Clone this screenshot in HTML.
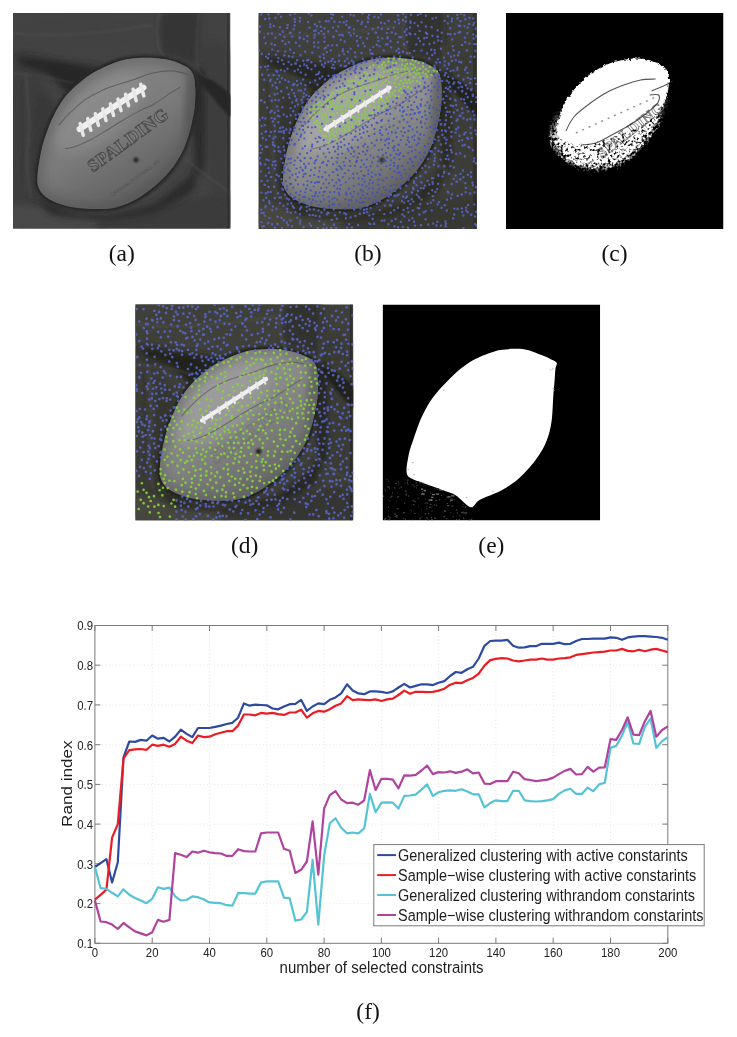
<!DOCTYPE html>
<html><head><meta charset="utf-8"><title>Figure</title>
<style>
html,body{margin:0;padding:0;background:#fff;}
#fig{position:relative;width:737px;height:1037px;overflow:hidden;background:#fff;}
#fig svg.main{position:absolute;left:0;top:0;}
.lab{position:absolute;width:60px;text-align:center;font-family:"Liberation Serif",serif;font-size:23.5px;line-height:1;color:#111;}
.tk{font-family:"Liberation Sans",sans-serif;font-size:11.4px;fill:#222;}
.al{font-family:"Liberation Sans",sans-serif;font-size:15px;fill:#1e1e1e;}
.lg{font-family:"Liberation Sans",sans-serif;font-size:14.5px;fill:#1e1e1e;}
</style></head>
<body><div id="fig">
<svg class="main" width="737" height="1037" viewBox="0 0 737 1037">
<svg x="13" y="13" width="217.5" height="215.7" viewBox="0 0 218 216" preserveAspectRatio="none">
<defs><filter id="pab3" x="-20%" y="-20%" width="140%" height="140%"><feGaussianBlur stdDeviation="3"/></filter><filter id="pab1" x="-20%" y="-20%" width="140%" height="140%"><feGaussianBlur stdDeviation="1"/></filter><filter id="pab05" x="-20%" y="-20%" width="140%" height="140%"><feGaussianBlur stdDeviation="0.5"/></filter><filter id="pab6" x="-30%" y="-30%" width="160%" height="160%"><feGaussianBlur stdDeviation="6"/></filter><linearGradient id="pabg" gradientUnits="userSpaceOnUse" x1="70" y1="62" x2="140" y2="180"><stop offset="0" stop-color="#888888"/><stop offset="0.5" stop-color="#7a7a7a"/><stop offset="1" stop-color="#5f5f5f"/></linearGradient><clipPath id="pacl"><rect width="218" height="216"/></clipPath><clipPath id="pabc"><path d="M108 47.8C116.4 45.3 122.9 45 130.4 44.8C137.9 44.5 146.1 45.1 152.8 46.3C159.5 47.5 166.2 50 170.7 52.2C175.2 54.4 177.6 56.2 179.6 59.5C181.6 62.8 181.9 66.9 182.4 72C182.9 77.1 182.8 84.3 182.4 90C182 95.7 181.2 100.3 180 106C178.8 111.7 177.4 118.1 175.5 124C173.6 129.9 171.7 135.5 168.6 141.2C165.5 146.9 161.6 152.9 157.2 158.3C152.8 163.7 147.7 168.8 142 173.5C136.3 178.2 129.3 183.3 123 186.8C116.7 190.3 110.3 192.8 104 194.4C97.7 196 92 196.2 85 196.3C78 196.4 68.7 195.8 62 194.8C55.3 193.8 50 192.4 45 190.5C40 188.6 35.3 186.2 32 183.5C28.7 180.8 26.6 177.6 25.4 174C24.2 170.4 24.3 166.8 24.6 162C24.9 157.2 25.9 150.7 27 145C28.1 139.3 29 134.3 31 128C33 121.7 36 113.3 38.8 107C41.6 100.7 44.5 95.2 48 90C51.5 84.8 54.4 81.1 59.7 76.1C65 71.1 72 64.7 80 60C88 55.3 99.6 50.3 108 47.8Z"/></clipPath></defs>
<g clip-path="url(#pacl)">
<rect width="218" height="216" fill="#424242"/>
<path d="M0 0C15 -3.8 135 -4 150 0C165 4 155 36 150 40C145 44 111 40 100 40C89 40 50 40.2 40 40C30 39.8 4 42 0 38C-4 34 -15 3.8 0 0Z" fill="#434343" filter="url(#pab3)"/>
<path d="M150 0C153.6 -4 182.4 -5 186 0C189.6 5 188.1 45.6 186 50C183.9 54.4 168.6 45 165 44C161.4 43 151.5 44.4 150 40C148.5 35.6 146.4 4 150 0Z" fill="#363636" filter="url(#pab3)"/>
<path d="M0 45C3 31 27 35.5 30 50C33 64.5 33 176 30 190C27 204 3 204.5 0 190C-3 175.5 -3 59 0 45Z" fill="#3e3e3e" filter="url(#pab3)"/>
<path d="M5 44C8 43.5 31.7 45.9 40 47C48.3 48.1 84.4 53.5 88 55C91.6 56.5 79.1 59.5 76 62C72.9 64.5 61 80 57 80C53 80 40.7 64.8 36 62C31.3 59.2 13.1 53.8 10 52C6.9 50.2 2 44.5 5 44Z" fill="#282828" filter="url(#pab3)"/>
<path d="M24 80C26 77 39 85 40 90C41 95 35.4 121 34 130C32.6 139 27.6 175 26 180C24.4 185 18.6 186 18 180C17.4 174 19.4 130 20 120C20.6 110 22 83 24 80Z" fill="#383838" filter="url(#pab3)"/>
<path d="M0 192C4 190 31 194.9 40 196C49 197.1 85 201 90 203C95 205 99 214.7 90 216C81 217.3 9 218.4 0 216C-9 213.6 -4 194 0 192Z" fill="#484848" filter="url(#pab3)"/>
<path d="M90 203C96 200.6 137.2 194.1 150 192C162.8 189.9 211.2 179.6 218 182C224.8 184.4 230.8 212.6 218 216C205.2 219.4 102.8 217.3 90 216C77.2 214.7 84 205.4 90 203Z" fill="#3a3a3a" filter="url(#pab3)"/>
<path d="M25 186C27 185.7 52.5 197.4 60 199C67.5 200.6 92 202.7 100 202C108 201.3 132.5 195.7 140 192C147.5 188.3 170.5 169.2 175 165C179.5 160.8 184.5 148.7 185 150C185.5 151.3 184.5 173 180 178C175.5 183 149 197.1 140 200C131 202.9 100 206.8 90 207C80 207.2 46.5 204.1 40 202C33.5 199.9 23 186.3 25 186Z" fill="#2c2c2c" filter="url(#pab3)"/>
<path d="M186 30C189.2 28 214.8 25 218 40C221.2 55 219.8 166.5 218 180C216.2 193.5 203 181 200 175C197 169 189.4 131.5 188 120C186.6 108.5 186.2 69 186 60C185.8 51 182.8 32 186 30Z" fill="#3e3e3e" filter="url(#pab3)"/>
<path d="M184 58C185.2 53.2 191.2 52.8 192 62C192.8 71.2 192.8 140.2 192 150C191.2 159.8 185.2 164 184 160C182.8 156 180 120.2 180 110C180 99.8 182.8 62.8 184 58Z" fill="#2c2c2c" filter="url(#pab3)"/>
<path d="M186 58C188.8 59 214.8 77.4 218 82C221.2 86.6 220.8 105 218 104C215.2 103 193.2 76.6 190 72C186.8 67.4 183.2 57 186 58Z" fill="#262626" filter="url(#pab1)"/>
<path d="M0 20C6.7 20.3 23.3 22.3 40 22C56.7 21.7 83.3 19.7 100 18C116.7 16.3 133.3 13 140 12" stroke="#505050" stroke-width="1.2" fill="none" filter="url(#pab1)"/>
<path d="M0 60C5 60.7 20 62.3 30 64C40 65.7 55 69 60 70" stroke="#4c4c4c" stroke-width="1.0" fill="none" filter="url(#pab1)"/>
<path d="M147 0C146.5 3.3 143.5 13 144 20C144.5 27 146.5 37.3 150 42C153.5 46.7 162.5 47 165 48" stroke="#505050" stroke-width="1.3" fill="none" filter="url(#pab1)"/>
<path d="M186 0C185.7 5 184 20.3 184 30C184 39.7 183.3 52 186 58C188.7 64 197.7 64.7 200 66" stroke="#4a4a4a" stroke-width="1.2" fill="none" filter="url(#pab1)"/>
<path d="M13 60C13.5 68.3 15.8 95 16 110C16.2 125 13.7 137.5 14 150C14.3 162.5 17.3 179.2 18 185" stroke="#4c4c4c" stroke-width="1.4" fill="none" filter="url(#pab1)"/>
<path d="M8 68C8.3 76.7 10 103 10 120C10 137 8.3 161.7 8 170" stroke="#343434" stroke-width="1.2" fill="none" filter="url(#pab1)"/>
<path d="M165 140C169.2 143.3 181.2 153.3 190 160C198.8 166.7 213.3 176.7 218 180" stroke="#4c4c4c" stroke-width="1.3" fill="none" filter="url(#pab1)"/>
<path d="M215 0C215.2 36 215.8 180 216 216" stroke="#292929" stroke-width="2.0" fill="none" filter="url(#pab1)"/>
<path d="M108 47.8C116.4 45.3 122.9 45 130.4 44.8C137.9 44.5 146.1 45.1 152.8 46.3C159.5 47.5 166.2 50 170.7 52.2C175.2 54.4 177.6 56.2 179.6 59.5C181.6 62.8 181.9 66.9 182.4 72C182.9 77.1 182.8 84.3 182.4 90C182 95.7 181.2 100.3 180 106C178.8 111.7 177.4 118.1 175.5 124C173.6 129.9 171.7 135.5 168.6 141.2C165.5 146.9 161.6 152.9 157.2 158.3C152.8 163.7 147.7 168.8 142 173.5C136.3 178.2 129.3 183.3 123 186.8C116.7 190.3 110.3 192.8 104 194.4C97.7 196 92 196.2 85 196.3C78 196.4 68.7 195.8 62 194.8C55.3 193.8 50 192.4 45 190.5C40 188.6 35.3 186.2 32 183.5C28.7 180.8 26.6 177.6 25.4 174C24.2 170.4 24.3 166.8 24.6 162C24.9 157.2 25.9 150.7 27 145C28.1 139.3 29 134.3 31 128C33 121.7 36 113.3 38.8 107C41.6 100.7 44.5 95.2 48 90C51.5 84.8 54.4 81.1 59.7 76.1C65 71.1 72 64.7 80 60C88 55.3 99.6 50.3 108 47.8Z" fill="none" stroke="#262626" stroke-width="5" filter="url(#pab1)"/>
<path d="M108 47.8C116.4 45.3 122.9 45 130.4 44.8C137.9 44.5 146.1 45.1 152.8 46.3C159.5 47.5 166.2 50 170.7 52.2C175.2 54.4 177.6 56.2 179.6 59.5C181.6 62.8 181.9 66.9 182.4 72C182.9 77.1 182.8 84.3 182.4 90C182 95.7 181.2 100.3 180 106C178.8 111.7 177.4 118.1 175.5 124C173.6 129.9 171.7 135.5 168.6 141.2C165.5 146.9 161.6 152.9 157.2 158.3C152.8 163.7 147.7 168.8 142 173.5C136.3 178.2 129.3 183.3 123 186.8C116.7 190.3 110.3 192.8 104 194.4C97.7 196 92 196.2 85 196.3C78 196.4 68.7 195.8 62 194.8C55.3 193.8 50 192.4 45 190.5C40 188.6 35.3 186.2 32 183.5C28.7 180.8 26.6 177.6 25.4 174C24.2 170.4 24.3 166.8 24.6 162C24.9 157.2 25.9 150.7 27 145C28.1 139.3 29 134.3 31 128C33 121.7 36 113.3 38.8 107C41.6 100.7 44.5 95.2 48 90C51.5 84.8 54.4 81.1 59.7 76.1C65 71.1 72 64.7 80 60C88 55.3 99.6 50.3 108 47.8Z" fill="url(#pabg)"/>
<g clip-path="url(#pabc)">
<ellipse cx="86" cy="100" rx="55" ry="26" transform="rotate(-38 86 100)" fill="#909090" opacity="0.6" filter="url(#pab6)"/>
<path d="M108 47.8C116.4 45.3 122.9 45 130.4 44.8C137.9 44.5 146.1 45.1 152.8 46.3C159.5 47.5 166.2 50 170.7 52.2C175.2 54.4 177.6 56.2 179.6 59.5C181.6 62.8 181.9 66.9 182.4 72C182.9 77.1 182.8 84.3 182.4 90C182 95.7 181.2 100.3 180 106C178.8 111.7 177.4 118.1 175.5 124C173.6 129.9 171.7 135.5 168.6 141.2C165.5 146.9 161.6 152.9 157.2 158.3C152.8 163.7 147.7 168.8 142 173.5C136.3 178.2 129.3 183.3 123 186.8C116.7 190.3 110.3 192.8 104 194.4C97.7 196 92 196.2 85 196.3C78 196.4 68.7 195.8 62 194.8C55.3 193.8 50 192.4 45 190.5C40 188.6 35.3 186.2 32 183.5C28.7 180.8 26.6 177.6 25.4 174C24.2 170.4 24.3 166.8 24.6 162C24.9 157.2 25.9 150.7 27 145C28.1 139.3 29 134.3 31 128C33 121.7 36 113.3 38.8 107C41.6 100.7 44.5 95.2 48 90C51.5 84.8 54.4 81.1 59.7 76.1C65 71.1 72 64.7 80 60C88 55.3 99.6 50.3 108 47.8Z" fill="none" stroke="#4d4d4d" stroke-width="9" opacity="0.6" filter="url(#pab6)"/>
<ellipse cx="182" cy="100" rx="10" ry="46" fill="#535353" opacity="0.6" filter="url(#pab3)"/>
</g>
<path d="M46 112C47.7 110.2 51.7 105.2 56 101C60.3 96.8 66.7 90.8 72 87C77.3 83.2 82.8 80.4 88 78C93.2 75.6 97.4 74.3 103 72.4C108.6 70.5 115.4 68.7 121.6 66.6C127.8 64.5 133.6 61.4 140 60C146.4 58.6 154 57.7 160 58C166 58.3 173.3 61.3 176 62" stroke="#545454" stroke-width="1.1" fill="none" opacity="0.75"/>
<path d="M52 136C53.7 135.7 57.7 135.5 62 134C66.3 132.5 72.6 129.7 77.8 127C83 124.3 87.8 121.2 93 118C98.2 114.8 103.6 111.3 108.9 108.1C114.2 104.9 119.5 101.9 125 99C130.5 96.1 136.5 94 142 90.8C147.5 87.6 153.7 82.8 158 80C162.3 77.2 166.3 75 168 74" stroke="#545454" stroke-width="1.1" fill="none" opacity="0.75"/>
<text x="0" y="0" transform="translate(80 160) rotate(-36)" font-family="Liberation Serif, serif" font-weight="bold" font-size="18" fill="#828282" stroke="#373737" stroke-width="0.9" opacity="0.7" letter-spacing="0.5">SPALDING</text>
<text x="0" y="0" transform="translate(100 184) rotate(-36)" font-family="Liberation Sans, sans-serif" font-size="5" fill="#3c3c3c" opacity="0.5249999999999999">OFFICIAL FOOTBALL J5V</text>
<circle cx="123.3" cy="147" r="2.6" fill="#282828" filter="url(#pab1)"/>
<path d="M66.8 116.2L130.8 74.7" stroke="#f0f0f0" stroke-width="6" stroke-linecap="round" filter="url(#pab05)"/>
<path d="M67.3 110.8L70.4 122.4M74.9 105.8L78 117.4M82.5 100.9L85.6 112.5M90 96L93.2 107.6M97.6 91.1L100.8 102.7M105.2 86.2L108.3 97.8M112.8 81.3L115.9 92.9M120.4 76.4L123.5 87.9M128 71.4L131.1 83" stroke="#e8e8e8" stroke-width="3.5" stroke-linecap="round" filter="url(#pab05)"/>
</g>
</svg>
<svg x="258.5" y="13" width="218.5" height="216" viewBox="0 0 218 216" preserveAspectRatio="none">
<defs><filter id="pbb3" x="-20%" y="-20%" width="140%" height="140%"><feGaussianBlur stdDeviation="3"/></filter><filter id="pbb1" x="-20%" y="-20%" width="140%" height="140%"><feGaussianBlur stdDeviation="1"/></filter><filter id="pbb05" x="-20%" y="-20%" width="140%" height="140%"><feGaussianBlur stdDeviation="0.5"/></filter><filter id="pbb6" x="-30%" y="-30%" width="160%" height="160%"><feGaussianBlur stdDeviation="6"/></filter><linearGradient id="pbbg" gradientUnits="userSpaceOnUse" x1="70" y1="62" x2="140" y2="180"><stop offset="0" stop-color="#a4a4a4"/><stop offset="0.5" stop-color="#8f8f8f"/><stop offset="1" stop-color="#656565"/></linearGradient><clipPath id="pbcl"><rect width="218" height="216"/></clipPath><clipPath id="pbbc"><path d="M108 47.8C116.4 45.3 122.9 45 130.4 44.8C137.9 44.5 146.1 45.1 152.8 46.3C159.5 47.5 166.2 50 170.7 52.2C175.2 54.4 177.6 56.2 179.6 59.5C181.6 62.8 181.9 66.9 182.4 72C182.9 77.1 182.8 84.3 182.4 90C182 95.7 181.2 100.3 180 106C178.8 111.7 177.4 118.1 175.5 124C173.6 129.9 171.7 135.5 168.6 141.2C165.5 146.9 161.6 152.9 157.2 158.3C152.8 163.7 147.7 168.8 142 173.5C136.3 178.2 129.3 183.3 123 186.8C116.7 190.3 110.3 192.8 104 194.4C97.7 196 92 196.2 85 196.3C78 196.4 68.7 195.8 62 194.8C55.3 193.8 50 192.4 45 190.5C40 188.6 35.3 186.2 32 183.5C28.7 180.8 26.6 177.6 25.4 174C24.2 170.4 24.3 166.8 24.6 162C24.9 157.2 25.9 150.7 27 145C28.1 139.3 29 134.3 31 128C33 121.7 36 113.3 38.8 107C41.6 100.7 44.5 95.2 48 90C51.5 84.8 54.4 81.1 59.7 76.1C65 71.1 72 64.7 80 60C88 55.3 99.6 50.3 108 47.8Z"/></clipPath></defs>
<g clip-path="url(#pbcl)">
<rect width="218" height="216" fill="#40403b"/>
<path d="M0 0C15 -3.8 135 -4 150 0C165 4 155 36 150 40C145 44 111 40 100 40C89 40 50 40.2 40 40C30 39.8 4 42 0 38C-4 34 -15 3.8 0 0Z" fill="#41413c" filter="url(#pbb3)"/>
<path d="M150 0C153.6 -4 182.4 -5 186 0C189.6 5 188.1 45.6 186 50C183.9 54.4 168.6 45 165 44C161.4 43 151.5 44.4 150 40C148.5 35.6 146.4 4 150 0Z" fill="#33332e" filter="url(#pbb3)"/>
<path d="M0 45C3 31 27 35.5 30 50C33 64.5 33 176 30 190C27 204 3 204.5 0 190C-3 175.5 -3 59 0 45Z" fill="#3c3c37" filter="url(#pbb3)"/>
<path d="M5 44C8 43.5 31.7 45.9 40 47C48.3 48.1 84.4 53.5 88 55C91.6 56.5 79.1 59.5 76 62C72.9 64.5 61 80 57 80C53 80 40.7 64.8 36 62C31.3 59.2 13.1 53.8 10 52C6.9 50.2 2 44.5 5 44Z" fill="#252520" filter="url(#pbb3)"/>
<path d="M24 80C26 77 39 85 40 90C41 95 35.4 121 34 130C32.6 139 27.6 175 26 180C24.4 185 18.6 186 18 180C17.4 174 19.4 130 20 120C20.6 110 22 83 24 80Z" fill="#353530" filter="url(#pbb3)"/>
<path d="M0 192C4 190 31 194.9 40 196C49 197.1 85 201 90 203C95 205 99 214.7 90 216C81 217.3 9 218.4 0 216C-9 213.6 -4 194 0 192Z" fill="#464641" filter="url(#pbb3)"/>
<path d="M90 203C96 200.6 137.2 194.1 150 192C162.8 189.9 211.2 179.6 218 182C224.8 184.4 230.8 212.6 218 216C205.2 219.4 102.8 217.3 90 216C77.2 214.7 84 205.4 90 203Z" fill="#373732" filter="url(#pbb3)"/>
<path d="M25 186C27 185.7 52.5 197.4 60 199C67.5 200.6 92 202.7 100 202C108 201.3 132.5 195.7 140 192C147.5 188.3 170.5 169.2 175 165C179.5 160.8 184.5 148.7 185 150C185.5 151.3 184.5 173 180 178C175.5 183 149 197.1 140 200C131 202.9 100 206.8 90 207C80 207.2 46.5 204.1 40 202C33.5 199.9 23 186.3 25 186Z" fill="#292924" filter="url(#pbb3)"/>
<path d="M186 30C189.2 28 214.8 25 218 40C221.2 55 219.8 166.5 218 180C216.2 193.5 203 181 200 175C197 169 189.4 131.5 188 120C186.6 108.5 186.2 69 186 60C185.8 51 182.8 32 186 30Z" fill="#3c3c37" filter="url(#pbb3)"/>
<path d="M184 58C185.2 53.2 191.2 52.8 192 62C192.8 71.2 192.8 140.2 192 150C191.2 159.8 185.2 164 184 160C182.8 156 180 120.2 180 110C180 99.8 182.8 62.8 184 58Z" fill="#292924" filter="url(#pbb3)"/>
<path d="M186 58C188.8 59 214.8 77.4 218 82C221.2 86.6 220.8 105 218 104C215.2 103 193.2 76.6 190 72C186.8 67.4 183.2 57 186 58Z" fill="#23231e" filter="url(#pbb1)"/>
<path d="M0 20C6.7 20.3 23.3 22.3 40 22C56.7 21.7 83.3 19.7 100 18C116.7 16.3 133.3 13 140 12" stroke="#4f4f4a" stroke-width="1.2" fill="none" filter="url(#pbb1)"/>
<path d="M0 60C5 60.7 20 62.3 30 64C40 65.7 55 69 60 70" stroke="#4a4a45" stroke-width="1.0" fill="none" filter="url(#pbb1)"/>
<path d="M147 0C146.5 3.3 143.5 13 144 20C144.5 27 146.5 37.3 150 42C153.5 46.7 162.5 47 165 48" stroke="#4f4f4a" stroke-width="1.3" fill="none" filter="url(#pbb1)"/>
<path d="M186 0C185.7 5 184 20.3 184 30C184 39.7 183.3 52 186 58C188.7 64 197.7 64.7 200 66" stroke="#484843" stroke-width="1.2" fill="none" filter="url(#pbb1)"/>
<path d="M13 60C13.5 68.3 15.8 95 16 110C16.2 125 13.7 137.5 14 150C14.3 162.5 17.3 179.2 18 185" stroke="#4a4a45" stroke-width="1.4" fill="none" filter="url(#pbb1)"/>
<path d="M8 68C8.3 76.7 10 103 10 120C10 137 8.3 161.7 8 170" stroke="#31312c" stroke-width="1.2" fill="none" filter="url(#pbb1)"/>
<path d="M165 140C169.2 143.3 181.2 153.3 190 160C198.8 166.7 213.3 176.7 218 180" stroke="#4a4a45" stroke-width="1.3" fill="none" filter="url(#pbb1)"/>
<path d="M215 0C215.2 36 215.8 180 216 216" stroke="#262621" stroke-width="2.0" fill="none" filter="url(#pbb1)"/>
<path d="M108 47.8C116.4 45.3 122.9 45 130.4 44.8C137.9 44.5 146.1 45.1 152.8 46.3C159.5 47.5 166.2 50 170.7 52.2C175.2 54.4 177.6 56.2 179.6 59.5C181.6 62.8 181.9 66.9 182.4 72C182.9 77.1 182.8 84.3 182.4 90C182 95.7 181.2 100.3 180 106C178.8 111.7 177.4 118.1 175.5 124C173.6 129.9 171.7 135.5 168.6 141.2C165.5 146.9 161.6 152.9 157.2 158.3C152.8 163.7 147.7 168.8 142 173.5C136.3 178.2 129.3 183.3 123 186.8C116.7 190.3 110.3 192.8 104 194.4C97.7 196 92 196.2 85 196.3C78 196.4 68.7 195.8 62 194.8C55.3 193.8 50 192.4 45 190.5C40 188.6 35.3 186.2 32 183.5C28.7 180.8 26.6 177.6 25.4 174C24.2 170.4 24.3 166.8 24.6 162C24.9 157.2 25.9 150.7 27 145C28.1 139.3 29 134.3 31 128C33 121.7 36 113.3 38.8 107C41.6 100.7 44.5 95.2 48 90C51.5 84.8 54.4 81.1 59.7 76.1C65 71.1 72 64.7 80 60C88 55.3 99.6 50.3 108 47.8Z" fill="none" stroke="#23231e" stroke-width="5" filter="url(#pbb1)"/>
<path d="M108 47.8C116.4 45.3 122.9 45 130.4 44.8C137.9 44.5 146.1 45.1 152.8 46.3C159.5 47.5 166.2 50 170.7 52.2C175.2 54.4 177.6 56.2 179.6 59.5C181.6 62.8 181.9 66.9 182.4 72C182.9 77.1 182.8 84.3 182.4 90C182 95.7 181.2 100.3 180 106C178.8 111.7 177.4 118.1 175.5 124C173.6 129.9 171.7 135.5 168.6 141.2C165.5 146.9 161.6 152.9 157.2 158.3C152.8 163.7 147.7 168.8 142 173.5C136.3 178.2 129.3 183.3 123 186.8C116.7 190.3 110.3 192.8 104 194.4C97.7 196 92 196.2 85 196.3C78 196.4 68.7 195.8 62 194.8C55.3 193.8 50 192.4 45 190.5C40 188.6 35.3 186.2 32 183.5C28.7 180.8 26.6 177.6 25.4 174C24.2 170.4 24.3 166.8 24.6 162C24.9 157.2 25.9 150.7 27 145C28.1 139.3 29 134.3 31 128C33 121.7 36 113.3 38.8 107C41.6 100.7 44.5 95.2 48 90C51.5 84.8 54.4 81.1 59.7 76.1C65 71.1 72 64.7 80 60C88 55.3 99.6 50.3 108 47.8Z" fill="url(#pbbg)"/>
<g clip-path="url(#pbbc)">
<ellipse cx="86" cy="100" rx="55" ry="26" transform="rotate(-38 86 100)" fill="#acacac" opacity="0.6" filter="url(#pbb6)"/>
<path d="M108 47.8C116.4 45.3 122.9 45 130.4 44.8C137.9 44.5 146.1 45.1 152.8 46.3C159.5 47.5 166.2 50 170.7 52.2C175.2 54.4 177.6 56.2 179.6 59.5C181.6 62.8 181.9 66.9 182.4 72C182.9 77.1 182.8 84.3 182.4 90C182 95.7 181.2 100.3 180 106C178.8 111.7 177.4 118.1 175.5 124C173.6 129.9 171.7 135.5 168.6 141.2C165.5 146.9 161.6 152.9 157.2 158.3C152.8 163.7 147.7 168.8 142 173.5C136.3 178.2 129.3 183.3 123 186.8C116.7 190.3 110.3 192.8 104 194.4C97.7 196 92 196.2 85 196.3C78 196.4 68.7 195.8 62 194.8C55.3 193.8 50 192.4 45 190.5C40 188.6 35.3 186.2 32 183.5C28.7 180.8 26.6 177.6 25.4 174C24.2 170.4 24.3 166.8 24.6 162C24.9 157.2 25.9 150.7 27 145C28.1 139.3 29 134.3 31 128C33 121.7 36 113.3 38.8 107C41.6 100.7 44.5 95.2 48 90C51.5 84.8 54.4 81.1 59.7 76.1C65 71.1 72 64.7 80 60C88 55.3 99.6 50.3 108 47.8Z" fill="none" stroke="#525252" stroke-width="9" opacity="0.6" filter="url(#pbb6)"/>
<ellipse cx="182" cy="100" rx="10" ry="46" fill="#585858" opacity="0.6" filter="url(#pbb3)"/>
</g>
<path d="M46 112C47.7 110.2 51.7 105.2 56 101C60.3 96.8 66.7 90.8 72 87C77.3 83.2 82.8 80.4 88 78C93.2 75.6 97.4 74.3 103 72.4C108.6 70.5 115.4 68.7 121.6 66.6C127.8 64.5 133.6 61.4 140 60C146.4 58.6 154 57.7 160 58C166 58.3 173.3 61.3 176 62" stroke="#686863" stroke-width="1.1" fill="none" opacity="0.75"/>
<path d="M52 136C53.7 135.7 57.7 135.5 62 134C66.3 132.5 72.6 129.7 77.8 127C83 124.3 87.8 121.2 93 118C98.2 114.8 103.6 111.3 108.9 108.1C114.2 104.9 119.5 101.9 125 99C130.5 96.1 136.5 94 142 90.8C147.5 87.6 153.7 82.8 158 80C162.3 77.2 166.3 75 168 74" stroke="#686863" stroke-width="1.1" fill="none" opacity="0.75"/>
<text x="0" y="0" transform="translate(80 160) rotate(-36)" font-family="Liberation Serif, serif" font-weight="bold" font-size="18" fill="#989893" stroke="#3c3c37" stroke-width="0.9" opacity="0.1" letter-spacing="0.5">SPALDING</text>
<text x="0" y="0" transform="translate(100 184) rotate(-36)" font-family="Liberation Sans, sans-serif" font-size="5" fill="#41413c" opacity="0.07500000000000001">OFFICIAL FOOTBALL J5V</text>
<circle cx="123.3" cy="147" r="2.6" fill="#252520" filter="url(#pbb1)"/>
<path d="M66.8 116.2L130.8 74.7" stroke="#f0f0f0" stroke-width="4.2" stroke-linecap="round" filter="url(#pbb05)"/>
<path d="M67.8 112.7L69.4 118.5M75.4 107.8L77 113.6M83 102.9L84.5 108.7M90.6 98L92.1 103.7M98.2 93L99.7 98.8M105.7 88.1L107.3 93.9M113.3 83.2L114.9 89M120.9 78.3L122.5 84.1M128.5 73.4L130 79.2" stroke="#e8e8e8" stroke-width="2.2" stroke-linecap="round" filter="url(#pbb05)"/>
</g>
<defs><filter id="pbdb" x="-5%" y="-5%" width="110%" height="110%"><feGaussianBlur stdDeviation="0.45"/></filter></defs><g filter="url(#pbdb)"><path d="M145.1 31.2h0M32 95.1h0M16.7 148.2h0M205.9 24.7h0M25.2 51h0M22.8 118.7h0M151.5 8.4h0M11.8 99.2h0M36.9 199.2h0M198.4 1.9h0M52.9 2.4h0M109.8 5.6h0M60.9 203.4h0M47 61.8h0M29.1 191.1h0M82.8 21.6h0M68.2 201.3h0M86 53.3h0M31.3 20h0M143.6 201.5h0M7 105.4h0M74.6 51.7h0M205.3 2.2h0M61.2 43.8h0M48.3 198.1h0M132.1 181.7h0M181 49.4h0M30 49h0M195.2 69.5h0M139.6 181.7h0M175.7 37h0M30.3 186.5h0M5.8 66.8h0M64.9 41.4h0M182.6 28.3h0M24 18.6h0M2.3 54.1h0M206.6 6.5h0M201.5 102.7h0M203 78.4h0M159.1 178h0M50.5 83.3h0M137.6 37.7h0M77.5 215h0M38 86.4h0M76.4 202.2h0M215.2 145.4h0M11.7 11.3h0M67.2 34.6h0M203 31.9h0M41.4 196.3h0M182.6 139h0M135.6 213.4h0M169.1 146.1h0M62.7 18.1h0M9.7 210.3h0M187.1 210.7h0M179.3 161.9h0M153.8 44.5h0M208.8 14.7h0M95.4 196.5h0M44.7 47.7h0M20.9 103.5h0M37.1 101.9h0M34 43.9h0M31.8 116.9h0M37.4 50.6h0M108 196h0M57.1 17.5h0M9.5 179.3h0M43.9 94h0M2.3 158.4h0M65.4 45.1h0M19.5 38.3h0M172.8 197.4h0M73 206.9h0M17.8 57.7h0M26.3 142h0M217.2 23.3h0M151.6 190.9h0M1.4 18.8h0M187.8 197.5h0M150.7 20.4h0M10.7 188.3h0M155.4 37.9h0M75.1 23.7h0M58.3 13.3h0M157.4 31.4h0M116.7 19.4h0M210.5 134.4h0M18.1 161.8h0M104.2 30h0M40.9 32.9h0M153.6 205.1h0M16.2 185.3h0M185.6 124.8h0M16.2 32h0M191.8 92.4h0M5.1 200h0M206.4 170.1h0M118 31.7h0M83.9 38.3h0M82.1 26.8h0M180.9 107.3h0M12.8 48.1h0M72.4 0.7h0M186.2 111.1h0M209.1 191.9h0M135.6 182.8h0M174.2 210.6h0M184.3 86h0M156.1 212.6h0M194.9 154.4h0M148 183.7h0M194.6 57.5h0M188.4 55.7h0M32.7 190.2h0M178.2 176.1h0M48.1 193.7h0M19.3 48.8h0M35.2 185.6h0M118.1 190.8h0M52.8 49.3h0M179.4 123.9h0M196.6 87.6h0M7.3 193.1h0M5.4 213.3h0M144.1 7h0M176.4 135.1h0M85.7 200.1h0M195.4 195.6h0M179.7 127.6h0M3.1 120.7h0M132.3 34.4h0M29.4 212.2h0M161.4 191h0M19.6 180.3h0M75.7 55.2h0M17.8 74.3h0M172.7 14.2h0M216 211.1h0M14.5 193.4h0M162.5 37.6h0M12.1 66.6h0M57.1 78.9h0M48.1 52.7h0M155.3 169.9h0M51 210.5h0M190 69.5h0M150.7 40.1h0M217 150.3h0M140.5 24.1h0M182.2 111.2h0M135.4 43.5h0M207.9 37.5h0M86 28.5h0M185.1 160h0M144.2 0.7h0M202.4 49.2h0M166 172.6h0M175.6 52.7h0M72.8 5.3h0M201.1 70.2h0M157.4 159.3h0M28.6 195.7h0M10.7 5.4h0M28.6 14.9h0M114.5 34.1h0M30.9 125.2h0M7.4 133.7h0M189.2 76h0M186 62.2h0M9.5 52.9h0M54.1 202h0M59.6 60.9h0M188.5 142.7h0M41.3 201.1h0M121 44h0M93 47.6h0M69.8 8.3h0M19.9 45.1h0M199.8 12.6h0M72.6 48.1h0M193.2 5.8h0M158.9 194.9h0M56.1 21.8h0M199 42.2h0M21.6 138.7h0M35.6 71h0M188.8 178.6h0M7.7 126.8h0M168.8 190.7h0M193.9 33.3h0M95.2 16.3h0M191.3 85.7h0M208.2 106.8h0M189.6 146.3h0M206.9 72.3h0M110.6 202.4h0M69.9 62.6h0M72.1 37.4h0M154.1 174.8h0M211.2 180.5h0M215.2 9.8h0M139.2 214.2h0M25.4 155.8h0M186.3 117.4h0M182.9 19.7h0M201.4 166.2h0M202.4 73.6h0M173.3 42h0M215.5 43.7h0M123.1 15.7h0M26.6 38.6h0M192.5 118.9h0M92 22.5h0M56.6 53h0M30.1 81.2h0M63.6 63.5h0M50.9 14.6h0M28.9 55.7h0M6 171.9h0M195.2 42.6h0M89.3 38.8h0M199.5 62.6h0M14.3 108.5h0M186.9 130.3h0M74.4 62.7h0M28.4 74.6h0M44.8 84h0M90.1 14.7h0M179.1 23.8h0M55.3 196.4h0M24.2 114.3h0M19.8 97.8h0M23.7 169.6h0M203.6 132.5h0M24.7 84.8h0M192.5 123.8h0M178.7 191.5h0M94.8 50.9h0M185.1 153h0M208.4 20.2h0M7.7 184.7h0M36.1 5.9h0M189.9 51.6h0M65.9 15.3h0M119.2 24.4h0M2.2 139.9h0M98.2 28.3h0M13.1 104.9h0M190.6 98.9h0M173.7 169.3h0M206.7 179.1h0M98.3 23h0M216.9 174.3h0M38.4 68.1h0M153.9 197.5h0M215.1 31.1h0M161.7 0.8h0M122.2 9.7h0M23.9 94.2h0M206.7 119.4h0M10 147.4h0M129.6 211.2h0M209.4 98.4h0M182.1 212.6h0M173.1 165.3h0M213.9 137.1h0M15.3 12.9h0M6.1 89.3h0M71.1 66.5h0M95 2.5h0M150.3 207.3h0M214.3 5.5h0M15.5 173.7h0M2.3 151.3h0M173.1 138.6h0M174.6 187.2h0M189 3.2h0M198.6 182.9h0M2.6 196.6h0M166.7 206.3h0M183.5 121.7h0M204.5 202.5h0M188.8 10.4h0M185.2 171.9h0M146 18.7h0M211.7 120.3h0M18.9 80.6h0M211.7 65.9h0M212.6 125.1h0M173.9 183.1h0M41.7 207.8h0M176 145.3h0M20.3 62.6h0M96.3 39.4h0M0.6 145.8h0M211.2 69.9h0M23.5 47.3h0M13.8 36.4h0M127.1 31.4h0M196.7 119.6h0M162.1 175.1h0M48.5 47.3h0M63.4 51.7h0M161.5 163.3h0M125.6 207.5h0M40.9 189.6h0M60.7 208.1h0M177.2 4.6h0M4.9 187.3h0M41.4 53h0M147.4 172.7h0M22.7 78.2h0M7.2 30.2h0M187 107.2h0M173.5 22.7h0M16.8 123.7h0M213.8 82.9h0M207.3 54.6h0M119.6 4.5h0M3.7 61.8h0M17.4 41.7h0M80.3 47.9h0M160.4 184.6h0M198.5 54.6h0M183.6 163.4h0M5.8 24.5h0M110.3 1.9h0M41.5 5.1h0M139.7 6.7h0M197.3 140.9h0M169.9 180.4h0M28.3 103.4h0M2.3 87.8h0M43.9 89.4h0M129.8 7.9h0M187 94.7h0M197.9 168.8h0M204 157.5h0M6.3 112.1h0M216 203.5h0M5.3 76.7h0M198.8 106.4h0M0.6 37.6h0M141.6 175.3h0M210 10.9h0M14 152.2h0M32.3 199.7h0M193 110.1h0M178.7 17.2h0M114 15.9h0M105.6 48.4h0M111.8 195h0M207.1 197.5h0M112.1 40.5h0M203.2 127.1h0M213.4 169.8h0M192.2 104h0M60.9 8.8h0M16.9 87h0M202.8 181.5h0M16.8 69.7h0M35.8 114.4h0M2.8 209.1h0M179 46.3h0M45.3 80.3h0M41.3 24.5h0M18.6 93.4h0M201.5 160.9h0M122.2 1.4h0M189.3 63.9h0M157.9 181.6h0M16.2 155.6h0M22.5 3.8h0M214 98.5h0M85 9.3h0M105.3 200h0M59.7 197.5h0M147.1 179.1h0M131.9 199.7h0M174.9 151.7h0M203.2 199h0M36 12.5h0M128.8 24.1h0M165.4 25.2h0M209.1 126h0M23.6 175.6h0M23 205h0M211.9 77h0M181.9 131.4h0M193 181.5h0M90.5 211.1h0M216.1 65.3h0M201.3 140.4h0M216.6 15.8h0M115.4 211.1h0M175.4 29.8h0M159.6 25.3h0M14.6 131.9h0M119.2 14.4h0M191.3 132.7h0M133 19.4h0M21.3 14.2h0M101.7 24.4h0M9.9 1.5h0M27 31h0M168.3 21h0M211.5 114.6h0M154.5 188.6h0M215.4 106.5h0M182.6 194.7h0M205.9 143.2h0M40.1 77.4h0M37.4 105.7h0M144.1 183.6h0M181.2 57h0M168.1 40.4h0M211.9 159.2h0M144 38.8h0M106.9 13.6h0M64.8 215.2h0M81 9.1h0M204.5 215.1h0M32.1 102.4h0M8.6 94.6h0M179.4 153.4h0M125.9 10.4h0M123.4 25.4h0M208.2 93.9h0M2.2 132.8h0M24 28h0M7.4 162.7h0M162.1 212.3h0M111.3 37h0M164.8 199.4h0M202.4 86h0M193.8 148h0M22.5 184.4h0M51.3 69.6h0M7.1 118.9h0M25.3 120.1h0M191.3 15.3h0M139 29.3h0M46.5 76.4h0M195.3 201.5h0M139.1 194.8h0M178.5 208.9h0M0.9 107h0M204.5 66.5h0M38.5 47.2h0M102.6 11.1h0M216.3 117.5h0M192.8 139.2h0M44.9 213.9h0M18.9 66.1h0M16.1 99.7h0M211.7 43.6h0M124.9 37.5h0M198.6 5.2h0M199.4 114.5h0M13.3 20.4h0M131.8 28.2h0M134.8 14.6h0M26.1 58.2h0M197.2 92.1h0M66.4 66.4h0M28.1 185.4h0M216.3 37.7h0M88.6 45.6h0M19 211h0M185.7 52.4h0M217.2 198.8h0M136.4 177.9h0M215.6 179.5h0M33.5 213.4h0M19 102.6h0M65.7 28.7h0M135.6 213.2h0M31.6 36.5h0M121 197.1h0M209 161.7h0M191.5 21.2h0M40.3 100.9h0M69.2 199.5h0M16.3 214.6h0M101.7 195.6h0M109.1 9h0M185.7 7.9h0M69.3 32.5h0M27.7 116.5h0M3.7 136.1h0M37.3 29.7h0M142 208.9h0M105.9 33.2h0M206.2 29.3h0M9.5 45.3h0M36.4 83.3h0M16.4 118.2h0M78.3 32.2h0M170.3 154.3h0M193.3 26.4h0M204.6 105.3h0M69.6 18.4h0M19.8 134.3h0M21.3 21.4h0M136.2 8.7h0M36.5 93.4h0M132.2 192.6h0M10.1 174h0M10.3 41h0M36.1 58.1h0M194.7 37.3h0M25.2 133.6h0M209.6 134h0M190 160.8h0M155.3 208.7h0M166.2 50.5h0M31.7 2h0M23.6 215.2h0M34.2 193.3h0M109.7 20.6h0M215.3 191.4h0M101.1 200.7h0M193 47.8h0M12.6 164h0M84.3 36.5h0M212.3 201.8h0M152.1 1.7h0M173.7 129.7h0M99.5 32.7h0M81.1 199.2h0M42.6 194.3h0M179.2 170.8h0M170.3 45.4h0M36.7 50.5h0M10.9 205.1h0M28.4 209.7h0M217.1 88.9h0M26.2 143.3h0M32.8 51.5h0M13.2 87.7h0M204.5 164.3h0M68.2 39.1h0M20.3 163.1h0M194.9 166.1h0M187 102.3h0M155.1 168.1h0M93.1 214.5h0M143.1 188.1h0M66 24.6h0M66 70.7h0M2.9 168h0M153 179.5h0M201.1 19h0M206.9 174.9h0M25.7 42.4h0M59.7 29.4h0M145.6 203.4h0M166.4 152.8h0M22.3 57.1h0M78.1 205.8h0M4.3 125h0M111.6 211.1h0M65.9 35.5h0M74.3 23.4h0M79.5 13.5h0M176.5 179h0M24.7 125.3h0M137.6 182.6h0M12.3 119.1h0M21.3 190.2h0M35.3 39.9h0M217.1 70.9h0M15.1 61.9h0M59.6 34.6h0M203.2 95.4h0M82.1 52.5h0M203.5 99.9h0M160.8 17.9h0M62.8 199.6h0M19.7 109.2h0M55.6 17.7h0M193.9 65.6h0M148.2 40.2h0M11 190.3h0M207.1 80.8h0M133.8 188.1h0M166.8 159.3h0M156.3 21.3h0M56.6 67.4h0M85.4 41.1h0M11.5 68h0M7.3 180.3h0M186.8 59.9h0M74 46h0M3.3 40.9h0M20.4 118.8h0M42.2 59.4h0M51.1 196.5h0M176.2 135.3h0M203.4 78h0M45.2 26h0M172.3 36.7h0M195.8 21h0M151.2 14.5h0M28.9 130h0M179.5 162.8h0M18.8 58.8h0M45.6 51.5h0M2.9 1.5h0M200.2 48.8h0M28.7 198.8h0M19.8 1h0M186.8 213.2h0M191 73.7h0M194.9 99.5h0M211.3 48.9h0M52.5 212.7h0M149.5 188.1h0M52.9 56.2h0M34.7 98.2h0M151.7 21.3h0M8.9 167.7h0M136.9 206h0M96.7 203h0M11.7 13.9h0M210.5 5h0M179.3 27.5h0M10.2 62.2h0M173.3 177.2h0M128.9 187.4h0M201.1 12.9h0M8.9 133.8h0M44.5 96.1h0M6.3 202.6h0M185.8 192.2h0M164.6 31.5h0M17.2 167.3h0M185.6 89.7h0M13.6 211.2h0M211.3 105.9h0M141.3 43.5h0M49.2 86.3h0M48.6 28.3h0M55.8 24.5h0M187.7 126.7h0M76.4 48.9h0M175.7 126.5h0M36.3 8.7h0M132.9 207.8h0M157.3 165h0M108.6 192.8h0M120.8 33.2h0M139.7 35.7h0M24.9 192.9h0M32.1 207.5h0M99.3 212h0M9.9 154.9h0M187.4 82.9h0M32.2 19.5h0M88.3 214.6h0M61.1 65.5h0M50.7 192.8h0M65.5 211.4h0M214.4 12.1h0M117.9 45.2h0M217.3 212.5h0M113.9 206h0M159 12.7h0M37.7 87.9h0M46.6 38.8h0M65.1 21h0M4 104.8h0M25.2 101.5h0M148.8 195h0M203.1 74h0M36.6 0.6h0M51 202h0M8.1 146.4h0M50.1 0.6h0M205.8 132h0M173.9 170.8h0M22.7 145.6h0M92 35.6h0M74.5 2h0M9.5 20.6h0M33.7 89.4h0M61.7 47.9h0M200 39.4h0M192.8 171h0M205.1 121.2h0M130.2 183.5h0M187 74.9h0M38.8 204.8h0M189.4 179.5h0M16.9 24.8h0M69.7 48.7h0M69.9 62.7h0M53.8 39.8h0M91.9 204.4h0M35.2 186h0M77.7 18.1h0M12.2 178.9h0M210.4 30.6h0M191.6 58.1h0M83.4 3.7h0M190.1 114.6h0M147.8 16.3h0M157.3 47.7h0M30.8 119.7h0M90.2 50.2h0M182 35.7h0M26.7 67h0M60 20.3h0M117.3 19.7h0M49.4 9h0M55.8 33.5h0M208.7 84.2h0M108.4 25.4h0M26.4 181.7h0M187 145.9h0M192.9 8.3h0M39.5 56.6h0M48.6 23.1h0M13.1 97.7h0M189.7 50.5h0M126.2 192.6h0M34.4 72h0M199.5 69.2h0M200.6 102.8h0M56.6 52.5h0M113.2 45.4h0M214.4 21.4h0M198.6 195.8h0M194.5 70.8h0M140.3 39.8h0M162.6 186.6h0M175.9 40.1h0M109.2 4.1h0M87.4 53h0M168.7 167.8h0M183.2 68h0M41.1 19.6h0M42.9 86.8h0M186.5 208.5h0M59.1 215h0M187.8 136.9h0M6.9 194.6h0M181.6 146.6h0M180.1 61.9h0M178.4 23.4h0M3 179.6h0M9 56.6h0M25.9 137.2h0M46.7 72.3h0M91.9 1.8h0M202.1 0.6h0M31.9 116h0M187.1 118.4h0M19 203.8h0M192.2 185.2h0M178.3 117.3h0M214.7 25.5h0M200.1 127.9h0M14 72.4h0M173.6 5.5h0M41.2 8.2h0M217.2 121.2h0M73.2 54.8h0M121 188.4h0M16.3 81.4h0M72.7 215h0M47.8 82.2h0M172.1 189.6h0M187.9 67.8h0M56.9 202.7h0M80.6 22.1h0M14.9 148.9h0M198.3 56.6h0M185.8 112.1h0M188.2 98.7h0M144.8 196.9h0M11 83h0M49.8 47h0M164.7 175.2h0M147 8.5h0M91.1 14.3h0M75.3 211.8h0M20.2 138.1h0M189.4 40.2h0M177.4 49.5h0M10.7 159.7h0M58.9 71.7h0M213.8 81.7h0M196.7 162.5h0M170.4 171.5h0M185.7 153.3h0M174.4 165.1h0M149.1 214.8h0M57.5 61.6h0M149.5 199.2h0M20.2 87.2h0M38.9 72.3h0M208.9 64.8h0M159 2.1h0M177.6 212.5h0M128.8 31.5h0M128.3 20.1h0M105.3 196.8h0M192 43.7h0M152.8 186.3h0M16.1 105.8h0M185.2 158.9h0M199.6 74.6h0M66.4 50.3h0M84.3 22.4h0M171.7 138.3h0M139.3 2.4h0M115.7 3.7h0M207.1 194.6h0M167 2.7h0M3.2 112.9h0M24.6 176.8h0M40.9 189.3h0M87.5 11.8h0M188.1 186.6h0M197.6 107.7h0M181.8 111.3h0M23.7 159.3h0M208.6 59.9h0M167.9 24.6h0M140.4 10.2h0M14.8 125.5h0M154.6 176.2h0M41.9 42.2h0M167 13.5h0M176.2 55h0M3.6 213.6h0M6.7 151.4h0M179.6 138h0M87.2 201.3h0M13.7 197.1h0M25.9 23.9h0M200.5 122.7h0M21.3 69.3h0M160.3 195.2h0M44.5 66.4h0M2.9 199.9h0M191.4 153.1h0M157.6 172.3h0M163.4 155.1h0M6.7 53.7h0M149.7 166.8h0M24.6 171.7h0M196.9 47.1h0M29.1 12h0M17.9 195.7h0M62.1 13.8h0M206.3 6.3h0M169.3 211.5h0M55.4 29.5h0M147 4.2h0M75.7 8.7h0M208.5 75.4h0M129.4 15.9h0M35.1 16.3h0M208.8 199.2h0M147.6 22.1h0M115.3 210.4h0M162.6 9.3h0M1.8 149.6h0M206 56.7h0M68.1 215h0M185 44.6h0M103.4 8.9h0M160.5 201.5h0M197.4 168.6h0M217.1 31.2h0M208.3 125h0M166.8 198.3h0M18.4 75.5h0M2.9 87.1h0M99 7.7h0M170.6 31h0M30.4 29.2h0M60.6 59.2h0M194.1 92.9h0M6.6 6h0M41.4 210.4h0M56.2 11.2h0M194.2 205.5h0M25.4 207.4h0M212 163.7h0M21.6 115h0M205.5 13.1h0M86.2 48.2h0M40.9 102.2h0M95.2 20.6h0M42.4 70.4h0M189 21h0M13 30.8h0M125.5 201.1h0M49.3 55h0M185 78.7h0M74.3 14.6h0M76.2 62.2h0M212.5 75.9h0M87.2 205.3h0M148.3 29h0M87.9 8.1h0M191.4 78.2h0M186.1 48.4h0M6 171.7h0M25.7 153.4h0M214 172.3h0M183.1 117.4h0M205.1 86.4h0M144.2 38.7h0M128.8 25.2h0M40.8 25.3h0M65.8 196.5h0M99.9 50.6h0M96.6 43.7h0M196.3 78.5h0M95 49.2h0M24.4 150h0M75.1 196.5h0M167 19.8h0M21 184.5h0M1.4 145.1h0M30 68.8h0M17.1 152.2h0M175.6 147.9h0M31.6 109.8h0M1.6 13.5h0M123 207.6h0M69.9 200h0M33.4 76.8h0M162.5 169.3h0M180 189.1h0M197.3 116.3h0M103.8 0.6h0M151.7 9.7h0M147 184.8h0M30.3 43.2h0M155.6 10.1h0M16 112.6h0M135.4 197.2h0M215.3 102.3h0M124.5 45.2h0M161.1 28.1h0M108.5 199.2h0M175.5 141.2h0M39.4 91.4h0M159.8 183.6h0M24.2 18.7h0M35.4 194.9h0M7.5 43.6h0M25.3 118h0M15.9 138.1h0M142.2 24.3h0M113.7 40.8h0M205.9 90.1h0M196.3 86.9h0M198.5 97.3h0M16.2 132.9h0M145.4 189.6h0M202.8 195.4h0M114.6 201.1h0M136.9 20.7h0M23 166.3h0M42.5 77.6h0M14.4 129.4h0M201.4 8.1h0M144.1 213.8h0M162.6 49.2h0M7.7 118.3h0M104 45.9h0M212.3 88.7h0M90.4 19.8h0M119.6 28h0M80.6 42.5h0M23.4 65.2h0M102.8 40h0M31 84.8h0M10.9 122.9h0M110.6 210.4h0M17 5h0M217.4 84.4h0M73.4 32.2h0M35.3 80.2h0M192.1 137h0M67.3 8.2h0M215 148.3h0M33.7 23.6h0M199.7 19.9h0M65.2 53.7h0M131.3 192.2h0" stroke="#5766cf" stroke-width="2.4" stroke-linecap="round" fill="none" opacity="0.85"/>
<path d="M56.7 147.8h0M56.2 183.2h0M106.1 162.8h0M122.9 92.9h0M120.8 161.4h0M29.8 146h0M44.5 112.9h0M90.2 187.2h0M44.6 184h0M81.8 154.5h0M131.5 155.9h0M46.4 133.2h0M126.5 127.6h0M78.5 157h0M36.2 147.6h0M121.2 117.3h0M58.9 128.9h0M80.1 179.9h0M112.6 102.5h0M104.8 119.7h0M66.3 84h0M28.6 173.3h0M70.5 192.5h0M75.4 172.9h0M46.9 155h0M96.1 123.8h0M176.8 115.2h0M92.6 134.3h0M63.5 164.3h0M58.6 169.2h0M100.6 194.4h0M41.9 123.7h0M113.6 179.9h0M47 160.7h0M141.3 92.6h0M106.1 131.2h0M53.4 114.5h0M165.4 73.6h0M152.5 92.3h0M156.9 143.9h0M29.5 156.6h0M139.7 131.7h0M111.5 167.1h0M177.3 107.8h0M148.8 81.2h0M90.4 175.5h0M143.6 152.9h0M113.1 112.5h0M61.6 125h0M61.3 154.4h0M35.4 184.9h0M153.4 124.2h0M91.7 153.1h0M178.1 96.7h0M79.1 162.1h0M161.5 121.6h0M167.6 106.2h0M120.2 176.2h0M87.5 179.8h0M129.4 120.5h0M170.4 95.2h0M116.9 161.8h0M52.8 93.9h0M161.1 99.2h0M152.2 96.5h0M157.6 132.1h0M127.8 96.8h0M44.4 157.7h0M32.5 171.1h0M145 106.7h0M131.5 53.9h0M114.1 169.7h0M79.7 133.6h0M155.6 100.8h0M74.2 159h0M75.3 191.3h0M127 148.2h0M62.4 175.1h0M103 147.4h0M161.8 92.9h0M33.8 162h0M54.4 186.9h0M64.8 149h0M32 181.3h0M134.4 135h0M106.7 112.3h0M95.7 79.3h0M81.8 62.3h0M73.7 186.2h0M44.6 163.8h0M87 169.3h0M102.1 185.2h0M159.3 95.6h0M79.8 166.5h0M120.1 66.1h0M52.7 169.2h0M46 119.5h0M159.7 125.3h0M97.4 149.1h0M105.9 168.7h0M102.4 55.4h0M151.4 146.5h0M101.1 87.7h0M122.3 126.7h0M45.7 125.5h0M162 108.7h0M127.5 153.3h0M57 179.2h0M150.3 113.1h0M102 154.1h0M90 137.8h0M144.8 143.2h0M141.1 97.6h0M141.8 162.4h0M121.2 47h0M39.2 108.5h0M122.4 107.9h0M140.8 108.7h0M172.6 77.9h0M45.9 109.2h0M66.3 178.5h0M104.6 115.6h0M103 189.2h0M176.2 64.5h0M178.9 102.6h0M82.1 172.1h0M100.3 140.5h0M124.3 142.1h0M78.6 186.8h0M85.8 132.1h0M76.5 138.4h0M130.7 114.2h0M130.3 125.7h0M109.5 161.2h0M97.9 187.7h0M148.9 127h0M104 178.4h0M140 141.9h0M100 171.2h0M166.3 110.6h0M41.7 147.5h0M58.9 78.3h0M130.6 178.8h0M145.3 77.6h0M61.3 135.9h0M45.4 150.9h0M172.7 86.8h0M147 84.9h0M38 155.6h0M162 146.2h0M96.9 118.3h0M111.7 77h0M85.4 126.4h0M148.9 64.3h0M182.4 82.2h0M77.5 63.8h0M34.7 174.6h0M119.6 171.6h0M91.2 56.2h0M41.8 154.6h0M97.1 55.8h0M172.7 70.2h0M162.2 78.5h0M149.4 117.7h0M114.4 189.7h0M66.6 159.4h0M150.4 88.1h0M93.7 183.7h0M35.9 131.9h0M129.8 107.6h0M138.9 159.7h0M123.1 99.5h0M85.8 72.9h0M46.1 145.2h0M139.3 152.9h0M104.3 138.6h0M28 151h0M94.5 160.9h0M111.8 142.6h0M165.9 139.7h0M108.4 180.8h0M64.9 140.5h0M94.9 143.5h0M151.5 101.5h0M142.4 118.5h0M101.5 65.3h0M111.8 153.3h0M154.2 152.9h0M70.3 170.4h0M81.4 176.1h0M48.6 100.6h0M117.9 109.7h0M123.2 121.9h0M48.4 96.4h0M78.5 81.8h0M120 137h0M53.6 131.7h0M30.7 131.7h0M64.8 170.6h0M150.4 134h0M39 164.1h0M145.1 97.9h0M108.1 146.6h0M166.5 102.2h0M135 149.9h0M73.2 144.9h0M106.5 78.1h0M55.1 173.5h0M119.9 166.6h0M96.6 59.8h0M65 194.5h0M69.2 136h0M45 171.7h0M52.6 120h0M127.6 165.1h0M96.3 152.9h0M171.4 114.1h0M61.7 84.8h0M114.7 144.9h0M62.1 188.7h0M80.5 68h0M178.9 77.2h0M94.8 165.3h0M78.4 149.3h0M166 69.7h0M67.9 174.6h0M134.9 112.6h0M98.9 73.1h0M131.4 151.9h0M162.6 86.7h0M99.3 134.3h0M135.7 171.6h0M48.4 90.1h0M134.2 88.8h0M148.6 109.3h0M137.9 124.1h0M136.7 95.5h0M138 85.1h0M86.3 195.7h0M163.3 104.1h0M147.7 101.7h0M103.6 171.9h0M136 176.6h0M118.5 179.7h0M115.9 56.7h0M140.7 146.3h0M97.2 113.7h0M133.5 163.8h0M126.2 131.9h0M147.5 131.6h0M115.3 97.1h0M144.1 122.9h0M139.2 137h0M40.7 182h0M41.3 140.9h0M99 127.2h0M115.7 115.9h0M118.7 153.1h0M128.1 144.4h0M142.2 171.8h0M52.3 157.1h0M45.4 189.3h0M127.5 100.8h0M172.6 103.8h0M158.1 119h0M153.8 116.3h0M71.9 104.2h0M108.5 118.5h0M84.9 149h0M167.8 115h0M59.1 143.3h0M60.1 192.1h0M80.8 191.5h0M147 160.6h0M123 181.9h0M48.9 168h0M180.6 67.2h0M51.4 162.8h0M65.8 132.6h0M52.1 137.8h0M114.4 175.4h0M77.6 169.6h0M90.2 192.4h0M49.4 114.2h0M95.1 173h0M112.9 130h0M133 119.1h0M116.1 132.5h0M131.2 93.5h0M43.6 99.3h0M100.9 60.2h0M107.5 154.3h0M93 86.7h0M174.5 94.6h0M81.7 122.8h0M50 108.6h0M40.6 186.7h0M75.7 179.1h0M83.4 140.5h0M106.8 141.6h0M129.9 130.4h0M117.9 127.2h0M135 105.8h0M64.7 78.1h0M69.6 82.2h0M158.1 106.5h0M65.7 186.5h0M33 127.2h0M122.4 156.8h0M145.9 156.5h0M79.4 141.4h0M119 148.4h0M66.9 74.5h0M26 154.9h0M40.8 159.3h0M144.9 114.9h0M36.9 167.2h0M175.6 111.6h0M68.3 152.2h0M104.3 182h0M47.6 175.9h0M73.8 128.7h0M127.3 139.9h0M143.5 103.2h0M46.4 179.3h0M71.3 179.4h0M166.9 81.2h0M67.6 166.5h0M52.1 177.4h0M48.8 172.3h0M39 144.7h0M113.4 149.3h0M122.6 150.6h0M179.3 84.1h0M64.3 182.7h0M59.9 163.9h0M149.5 139.8h0M142.1 127.1h0M48.6 140.1h0M99.1 144.3h0M32 149.9h0M37.5 179.6h0M166.6 92.5h0M87.8 58.1h0M100 165.4h0M83.1 88.7h0M110.4 170.7h0M87.1 145.1h0M53.4 87.8h0M110.4 185.6h0M163.1 114h0M57 125.5h0M159.7 150.5h0M157.7 78.7h0M101.1 121h0M137 119.8h0M132.3 147.3h0M98.4 160.5h0M102.6 158.3h0M92.3 140.8h0M86.5 186.3h0M70.5 188.4h0M165.8 132.9h0M86.3 160.3h0M73.6 96.2h0M107.7 48.8h0M170.7 125.1h0M110.2 123.1h0M115.2 105.5h0M50.7 186.2h0M115.7 121h0M31.2 164.7h0M65.1 127.1h0M153.1 138.4h0M127.1 177.1h0M93.8 126.8h0M87.5 121.6h0M27.2 168.3h0M106.9 67.9h0M105.1 62.9h0M169.4 73.2h0M40.8 116.3h0M127.2 182.7h0M149 149.8h0M138.8 115.2h0M75.1 69.1h0M70.7 139.5h0M40.1 126.9h0M175 60.9h0M73.6 167.1h0M164.3 65.4h0M57.4 88.8h0M95.1 70.4h0M119 143.7h0M57.6 188.5h0M39.5 171.3h0M35 118.2h0M157.4 84.2h0M66.9 143.9h0M84.4 164.1h0M89.8 75.4h0M57.7 147h0M60.8 158.1h0M69.2 90.8h0M70.5 162.5h0M89.9 157.3h0M52.9 190.2h0M45 105.2h0M101 116.6h0M69.8 183.9h0M104.5 162.5h0M135.6 52.3h0M102.7 50.2h0M82.1 129.2h0M125 174.1h0M134.1 127.9h0M69.6 148.1h0M169.8 138.2h0M165.2 122h0M168.4 89.4h0M129.3 135.1h0M55.9 150.2h0M152.7 79.3h0M50.1 150.6h0M95.4 178.5h0M124.5 167.6h0M92.1 61.2h0M95.2 138.7h0M150.6 163.2h0M144.1 89.2h0M152.8 105.6h0M63.6 163.8h0M155.6 127.1h0M71.2 72.2h0M137.4 166.1h0M113.1 163.9h0M104.7 133.4h0M115.7 47.6h0M105.2 151.4h0M173 119h0M131.8 142.2h0M181.5 91.9h0M174.8 115.9h0M92.8 106.9h0M111 62.4h0M32.2 145.6h0M65 94.1h0M171.9 83.3h0M74.3 151.4h0M46.2 184h0M56.4 155h0M165 144.1h0M148.7 166.5h0M110.6 102.5h0M175.5 74h0M155.7 122.6h0M93.5 135.4h0M56.6 114.1h0M58.6 103.6h0M99.5 180.8h0M90.2 130.8h0M119.3 100.2h0M110.6 175.6h0M38.2 121h0M122.6 114h0M70.4 193.5h0M65.2 86.3h0M80.7 153h0M113.8 180.7h0M77.8 75.2h0M92.4 120.5h0M60.3 124h0M57.8 93.8h0M166.3 98.4h0M52.1 99.4h0M156.6 137h0M108.4 137.7h0M160.8 139.5h0M158.1 114.5h0M117.4 187.6h0M52.1 145.2h0M31.1 158.1h0M137.7 90.5h0M28.6 176.7h0M102.6 124.7h0M178.6 70.3h0M60.4 169.2h0M135.6 158.4h0M91.1 148.1h0M35.5 152h0M113 159.5h0M169.1 130.8h0M89.9 176h0M86.4 66.2h0M73.4 65.3h0M108.1 54.9h0M87.7 181.7h0M127.5 116.4h0M154 97h0M81.3 74h0M43.2 112.6h0M137.6 45.6h0M165.6 74.9h0M81.2 113.4h0M104.1 107.6h0M109.7 109h0M75 133.9h0M156.2 144.1h0M113.1 112.1h0M54 183.3h0M155.4 89.2h0M153.3 148.9h0M161.4 121h0M36.6 114.8h0M132.1 46.8h0M109.1 134.1h0M59.2 183.3h0M83.1 156h0M150.7 156.5h0M161.9 91.2h0M95.5 81.3h0M151.2 145.7h0M56.9 180.6h0M159.9 99.7h0M44 135.5h0M31.5 170.9h0M133.3 59.5h0M55.6 161.9h0M92.7 187.4h0M135.6 133.4h0M123.3 106.8h0M107.4 173.4h0M104.7 188.9h0M158.1 93.9h0M135.6 144.8h0M151.2 113.5h0M65.3 178.9h0M116 101.9h0M140 131.9h0M162 109.9h0M74 191.2h0M74.7 159.1h0M170.9 92.7h0M90.8 165.3h0M103.6 166h0M159.6 130.3h0M103.2 56.5h0M146.6 79.3h0M46.9 153.4h0M56.3 169.9h0M156.3 74.9h0M42.2 148.1h0M57.2 84.1h0M128.8 90.8h0M80.6 181.8h0M129 97.4h0M45.3 161.3h0M143.7 94.4h0M76.1 85.6h0M118.8 50.1h0M86.6 61.6h0M141.5 140.1h0M93.2 54.4h0M106.6 185h0M44.5 116.9h0M156 100.2h0M42 108.9h0M63.6 149.8h0M169.5 77h0M79.2 61h0M128.2 126.2h0M42.6 121.7h0M91.9 180.6h0M82.5 134.1h0M149.1 94.2h0M97.6 53.4h0M124.7 147.4h0M78.6 130.6h0M77.7 156.1h0M146 119.6h0M181.3 97.5h0M79.3 136.1h0M149.2 124.4h0M131.5 100.8h0M82 64.1h0M160.7 126.4h0M121.4 162h0M140.9 159.4h0M41.9 178.3h0M93.9 194.7h0M81.1 167.8h0M131 177.5h0M60.8 179.7h0M116.3 183.4h0M36.2 130.8h0M108.6 114h0M36.5 184.3h0M53.4 133.6h0M150.7 83.5h0M85.8 152.7h0M132.3 172.9h0M64.8 82.6h0M128.6 54.9h0M144 98.8h0M103.8 113.9h0M170.8 100.2h0M75.8 184.8h0M109.5 157.4h0M149.9 118h0M37.3 160.8h0M138.8 155.2h0M78.7 175.7h0M63.4 110.9h0M137.6 141.1h0M180 73.8h0M98.3 147.9h0M84.1 70.6h0M78.6 145h0M179.5 63.3h0M102.2 176.7h0M89 135.8h0M135.4 152.9h0M118.7 110.2h0M25.7 159.6h0M115.1 61.1h0M94.7 165h0M59.6 80.9h0M123.2 136.5h0M162.2 147.3h0M43.8 156.8h0M142.8 165.5h0M159.8 73.4h0M121.4 120.1h0M135.1 137.4h0M100.9 189.5h0M152.8 134h0M86.6 109.8h0M150.3 129.1h0M95.8 57.7h0M96.9 123.5h0" stroke="#3a4cc4" stroke-width="2.2" stroke-linecap="round" fill="none" opacity="0.85"/>
<path d="M169.4 58.5h0M153.4 55.8h0M129.9 63.6h0M58.9 96.3h0M136.1 82.7h0M111.3 54.4h0M115.6 94.4h0M90.2 114.3h0M71.4 100.9h0M74.7 101.3h0M145 73.1h0M160.8 55.7h0M136.1 77.7h0M71.1 118.5h0M151.1 61.3h0M86.3 83.8h0M92 90.9h0M129.6 48.7h0M143.2 51.6h0M103.1 80.4h0M66.8 101h0M154.6 51.6h0M117.6 64.6h0M93.2 110.5h0M78.9 100.1h0M97.5 108.6h0M114.7 51.9h0M77.9 126.4h0M140.5 77.8h0M100.9 85h0M108.4 60.7h0M74.7 91.3h0M102.3 70.5h0M148.1 50.9h0M55.6 109.6h0M136.2 59.4h0M91.5 83.2h0M146.3 53.1h0M65.9 109.6h0M78.3 93.1h0M68.9 107.5h0M82.5 96.8h0M151.8 50.7h0M99.4 105.2h0M158.2 57.4h0M105.7 59.1h0M60.7 110h0M98.8 80.2h0M114.8 76.7h0M89 72.6h0M114.7 72.6h0M142.5 56.5h0M108.8 82.3h0M123.9 63.8h0M112.1 82h0M106.8 104.2h0M111.6 74.3h0M83.9 76.5h0M112.4 68.4h0M126.5 52.4h0M90.4 88h0M161.3 64.2h0M166.8 56.3h0M151.4 69.8h0M77.7 77.9h0M129 58.3h0M146.8 47.1h0M118.5 72.9h0M123.1 51.9h0M128 84.8h0M69.4 86h0M63.6 91.8h0M130.4 69.2h0M115.5 89.4h0M71.3 122.4h0M78.7 95.9h0M107.5 74.4h0M104.6 73.2h0M144.2 70.2h0M63.8 105.5h0M145.7 56.3h0M126.1 89.4h0M164.3 59.2h0M148.9 55.5h0M95.6 86.7h0M171 53.9h0M120.3 53.7h0M141.9 68h0M143.4 62h0M84.1 81.9h0M93.4 113.6h0M110.8 99.4h0M137.2 49.9h0M114 66h0M146.8 59.9h0M87.1 75.7h0M127.1 67.5h0M124.3 69.9h0M78.8 115.4h0M58.8 112.3h0M168.2 63.6h0M153.6 47.3h0M72.5 93.4h0M137.2 74.1h0M87.8 112.2h0M87.3 97.4h0M89.4 106.6h0M104.7 83.8h0M119.8 93.8h0M110.9 65.4h0M80 89.3h0M100.8 108.1h0M100.1 101.6h0M61.4 117.5h0M106 98.4h0M50.9 102.5h0M146.2 66.8h0M156.7 48.3h0M135.8 70.3h0M159.7 49.7h0M130.9 83.3h0M117.7 69.8h0M101.8 75.5h0M164.1 53.4h0M118.6 60.9h0M83.7 100.3h0M119.8 96.6h0M82.2 79.5h0M103.4 101.6h0M86.6 118.5h0M68.4 120.3h0M59.2 91.2h0M87.6 92.8h0M166.9 60.8h0M113.9 99.7h0M84.3 92.6h0M161 70h0M61.8 114.3h0M71.2 88.5h0M156.3 54.4h0M140.7 46h0M81.4 93.8h0M67.5 104.5h0M123.7 55h0M132.3 57h0M111.2 92.5h0M77.6 118.7h0M124.1 87.4h0M67.2 88.3h0M143.5 47.5h0M96.8 76.1h0M73.8 120.6h0M89.8 68.7h0M138.9 56.1h0M157.3 61.4h0M130.9 80.4h0M97.3 63.9h0M96.5 67.7h0M139.1 59.7h0M127.3 93.3h0M125.3 58.6h0M81.3 84.3h0M149 74h0M93.9 103.5h0M129.5 88h0M58.3 107.9h0M139 64.6h0M69.9 130.1h0M120.2 88.8h0M69.4 93.6h0M159.9 60.3h0M103.5 67.7h0M121.9 72.6h0M61.8 95.7h0M63.6 102.5h0M90.9 117.4h0M175 57.6h0M107.2 94.8h0M172.6 62h0M73.5 106.6h0M83.5 118.1h0M103.3 105h0M158.1 68.2h0M90.2 109.3h0M125 49.4h0M51.2 96.4h0M96.6 83.7h0M150.2 66.8h0M96.1 89.9h0M92.3 78.1h0M87.8 89.6h0M154.8 64.3h0M76.3 123.1h0M67.4 123.3h0M109.2 78.7h0M135.6 55.6h0M94.1 93.2h0M140.1 83.4h0M148 69.8h0M118.1 77.9h0M121.4 85.7h0M124.6 95.1h0M134 49.8h0M71.2 125.9h0M135.9 62.9h0M155.3 59.3h0M100.3 110.9h0M84.3 112.4h0M74 87.9h0M135 45.4h0M142 75.2h0M121.2 63h0M76 94.9h0M98.4 87.6h0M72.3 82.5h0M152.2 75.6h0M153.9 68.1h0M140.4 71.5h0M150.5 58.5h0M64.8 122.3h0M94.6 74.2h0M134.1 80.3h0M109.8 105.2h0M164.1 50.1h0M54.7 104.6h0M91.1 94h0M60.9 99.3h0M55.7 100h0M69.1 98.1h0M104.1 86.7h0M55.3 92.7h0M136.7 66.5h0M99.7 69h0M61.1 89h0M129.7 45.4h0M73.8 116.6h0M178 58.4h0M86.3 115.5h0M106.9 101.2h0M96.2 105.6h0M78.7 86.6h0M106.3 65.3h0M73.7 80.1h0M92.9 67.7h0M142.9 79.7h0M88.6 80.6h0M55.1 96h0" stroke="#86d43c" stroke-width="2.4" stroke-linecap="round" fill="none" opacity="0.9"/></g>
</svg>
<svg x="506" y="13" width="217.5" height="216" viewBox="0 0 218 216" preserveAspectRatio="none">
<defs><filter id="pcb" x="-20%" y="-20%" width="140%" height="140%"><feTurbulence type="fractalNoise" baseFrequency="0.3" numOctaves="2" seed="2" result="t"/><feDisplacementMap in="SourceGraphic" in2="t" scale="4" xChannelSelector="R" yChannelSelector="G" result="d"/><feGaussianBlur in="d" stdDeviation="0.7"/></filter><filter id="pcb1" x="-20%" y="-20%" width="140%" height="140%"><feGaussianBlur stdDeviation="0.6"/></filter><filter id="pcn" x="-20%" y="-20%" width="140%" height="140%"><feGaussianBlur in="SourceGraphic" stdDeviation="5" result="bl"/><feTurbulence type="fractalNoise" baseFrequency="0.38" numOctaves="2" seed="4" result="tu"/><feColorMatrix in="tu" type="matrix" values="0 0 0 0 1 0 0 0 0 1 0 0 0 0 1 1 0 0 0 0" result="na"/><feComposite in="bl" in2="na" operator="arithmetic" k1="4.2" k2="0" k3="0" k4="-1.05" result="c"/><feGaussianBlur in="c" stdDeviation="0.6"/></filter></defs>
<rect width="218" height="216" fill="#000"/>
<linearGradient id="pcgu" gradientUnits="userSpaceOnUse" x1="84.3" y1="72.3" x2="99.4" y2="93.5"><stop offset="0" stop-color="#000"/><stop offset="1" stop-color="#fff"/></linearGradient>
<linearGradient id="pcgv" gradientUnits="userSpaceOnUse" x1="151.3" y1="66.5" x2="133.4" y2="79.2"><stop offset="0" stop-color="#000"/><stop offset="1" stop-color="#fff"/></linearGradient>
<mask id="pcmu" maskUnits="userSpaceOnUse" x="0" y="0" width="218" height="216"><rect width="218" height="216" fill="url(#pcgu)"/></mask>
<mask id="pcmv" maskUnits="userSpaceOnUse" x="0" y="0" width="218" height="216"><rect width="218" height="216" fill="url(#pcgv)"/></mask>
<g mask="url(#pcmu)"><g mask="url(#pcmv)"><path d="M104.3 50.3C112.2 47.6 121.7 45.8 129 45.5C136.3 45.2 142.9 46.6 148 48.4C153.1 50.1 156.9 53.5 159.4 56C161.9 58.5 162.9 58.9 163.2 63.6C163.5 68.3 163.2 76.9 161.3 84.5C159.4 92.1 155.3 102.2 151.8 109.2C148.3 116.2 145.8 120 140.4 126.3C135 132.6 127.7 142.4 119.5 147.2C111.3 151.9 100.5 154.8 91 154.8C81.5 154.8 70.1 152.6 62.5 147.2C54.9 141.8 47.3 130.4 45.4 122.5C43.5 114.6 48.2 107 51.1 99.7C54 92.4 57.4 85.1 62.5 78.8C67.6 72.5 74.5 66.5 81.5 61.7C88.5 57 96.4 53 104.3 50.3Z" transform="translate(104 100) scale(1.06) translate(-104 -100)" fill="#fff" filter="url(#pcn)"/></g></g>
<path d="M104.3 50.3C112.1 47.4 121.7 45.8 129 45.5C136.3 45.2 142.9 46.6 148 48.4C153.1 50.1 156.9 53.5 159.4 56C161.9 58.5 162.8 59.6 163.2 63.6C163.6 67.6 163.2 74.8 162 80C160.8 85.2 158.8 90.7 156 95C153.2 99.3 149.7 102.5 145 106C140.3 109.5 134.2 113 128 116C121.8 119 114.7 121.7 108 124C101.3 126.3 95 129 88 130C81 131 72 131.3 66 130C60 128.7 54 126.7 52 122C50 117.3 52 108.7 54 102C56 95.3 59.3 88.5 64 82C68.7 75.5 75.3 68.3 82 63C88.7 57.7 96.5 53.2 104.3 50.3Z" fill="#fff" filter="url(#pcb)"/>
<path d="M60 118C61.3 115.7 64.3 108.3 68 104C71.7 99.7 76.7 96 82 92C87.3 88 94 83.3 100 80C106 76.7 112.2 74.2 118 72C123.8 69.8 129.7 68 135 67C140.3 66 147.5 66.2 150 66" stroke="#2a2a2a" stroke-width="1.1" fill="none" opacity="0.8" filter="url(#pcb1)"/>
<path d="M76 132C78.3 131.7 85 131.7 90 130C95 128.3 100.3 125 106 122C111.7 119 118.3 115.5 124 112C129.7 108.5 135.3 104.7 140 101C144.7 97.3 149.8 93.2 152 90C154.2 86.8 154.3 83.3 153 82C151.7 80.7 145.5 82 144 82" stroke="#2a2a2a" stroke-width="1.1" fill="none" opacity="0.8" filter="url(#pcb1)"/>
<path d="M146 78C148.3 77 156.5 73.7 160 72C163.5 70.3 165.8 68.7 167 68" stroke="#2a2a2a" stroke-width="1.1" fill="none" opacity="0.8" filter="url(#pcb1)"/>
<path d="M70 120L150 84" stroke="#444" stroke-width="1.4" stroke-dasharray="2 5" opacity="0.6"/>
<text transform="translate(96 146) rotate(-38)" font-family="Liberation Serif, serif" font-weight="bold" font-size="15" fill="none" stroke="#222" stroke-width="0.8" opacity="0.6" letter-spacing="0.5">SPALDING</text>
</svg>
<svg x="135.3" y="304.3" width="218" height="216.2" viewBox="0 0 218 216" preserveAspectRatio="none">
<defs><filter id="pdb3" x="-20%" y="-20%" width="140%" height="140%"><feGaussianBlur stdDeviation="3"/></filter><filter id="pdb1" x="-20%" y="-20%" width="140%" height="140%"><feGaussianBlur stdDeviation="1"/></filter><filter id="pdb05" x="-20%" y="-20%" width="140%" height="140%"><feGaussianBlur stdDeviation="0.5"/></filter><filter id="pdb6" x="-30%" y="-30%" width="160%" height="160%"><feGaussianBlur stdDeviation="6"/></filter><linearGradient id="pdbg" gradientUnits="userSpaceOnUse" x1="70" y1="62" x2="140" y2="180"><stop offset="0" stop-color="#9a9a9a"/><stop offset="0.5" stop-color="#848484"/><stop offset="1" stop-color="#686868"/></linearGradient><clipPath id="pdcl"><rect width="218" height="216"/></clipPath><clipPath id="pdbc"><path d="M108 47.8C116.4 45.3 122.9 45 130.4 44.8C137.9 44.5 146.1 45.1 152.8 46.3C159.5 47.5 166.2 50 170.7 52.2C175.2 54.4 177.6 56.2 179.6 59.5C181.6 62.8 181.9 66.9 182.4 72C182.9 77.1 182.8 84.3 182.4 90C182 95.7 181.2 100.3 180 106C178.8 111.7 177.4 118.1 175.5 124C173.6 129.9 171.7 135.5 168.6 141.2C165.5 146.9 161.6 152.9 157.2 158.3C152.8 163.7 147.7 168.8 142 173.5C136.3 178.2 129.3 183.3 123 186.8C116.7 190.3 110.3 192.8 104 194.4C97.7 196 92 196.2 85 196.3C78 196.4 68.7 195.8 62 194.8C55.3 193.8 50 192.4 45 190.5C40 188.6 35.3 186.2 32 183.5C28.7 180.8 26.6 177.6 25.4 174C24.2 170.4 24.3 166.8 24.6 162C24.9 157.2 25.9 150.7 27 145C28.1 139.3 29 134.3 31 128C33 121.7 36 113.3 38.8 107C41.6 100.7 44.5 95.2 48 90C51.5 84.8 54.4 81.1 59.7 76.1C65 71.1 72 64.7 80 60C88 55.3 99.6 50.3 108 47.8Z"/></clipPath></defs>
<g clip-path="url(#pdcl)">
<rect width="218" height="216" fill="#3f3f3a"/>
<path d="M0 0C15 -3.8 135 -4 150 0C165 4 155 36 150 40C145 44 111 40 100 40C89 40 50 40.2 40 40C30 39.8 4 42 0 38C-4 34 -15 3.8 0 0Z" fill="#40403b" filter="url(#pdb3)"/>
<path d="M150 0C153.6 -4 182.4 -5 186 0C189.6 5 188.1 45.6 186 50C183.9 54.4 168.6 45 165 44C161.4 43 151.5 44.4 150 40C148.5 35.6 146.4 4 150 0Z" fill="#32322d" filter="url(#pdb3)"/>
<path d="M0 45C3 31 27 35.5 30 50C33 64.5 33 176 30 190C27 204 3 204.5 0 190C-3 175.5 -3 59 0 45Z" fill="#3b3b36" filter="url(#pdb3)"/>
<path d="M5 44C8 43.5 31.7 45.9 40 47C48.3 48.1 84.4 53.5 88 55C91.6 56.5 79.1 59.5 76 62C72.9 64.5 61 80 57 80C53 80 40.7 64.8 36 62C31.3 59.2 13.1 53.8 10 52C6.9 50.2 2 44.5 5 44Z" fill="#22221d" filter="url(#pdb3)"/>
<path d="M24 80C26 77 39 85 40 90C41 95 35.4 121 34 130C32.6 139 27.6 175 26 180C24.4 185 18.6 186 18 180C17.4 174 19.4 130 20 120C20.6 110 22 83 24 80Z" fill="#34342f" filter="url(#pdb3)"/>
<path d="M0 192C4 190 31 194.9 40 196C49 197.1 85 201 90 203C95 205 99 214.7 90 216C81 217.3 9 218.4 0 216C-9 213.6 -4 194 0 192Z" fill="#464641" filter="url(#pdb3)"/>
<path d="M90 203C96 200.6 137.2 194.1 150 192C162.8 189.9 211.2 179.6 218 182C224.8 184.4 230.8 212.6 218 216C205.2 219.4 102.8 217.3 90 216C77.2 214.7 84 205.4 90 203Z" fill="#363631" filter="url(#pdb3)"/>
<path d="M25 186C27 185.7 52.5 197.4 60 199C67.5 200.6 92 202.7 100 202C108 201.3 132.5 195.7 140 192C147.5 188.3 170.5 169.2 175 165C179.5 160.8 184.5 148.7 185 150C185.5 151.3 184.5 173 180 178C175.5 183 149 197.1 140 200C131 202.9 100 206.8 90 207C80 207.2 46.5 204.1 40 202C33.5 199.9 23 186.3 25 186Z" fill="#272722" filter="url(#pdb3)"/>
<path d="M186 30C189.2 28 214.8 25 218 40C221.2 55 219.8 166.5 218 180C216.2 193.5 203 181 200 175C197 169 189.4 131.5 188 120C186.6 108.5 186.2 69 186 60C185.8 51 182.8 32 186 30Z" fill="#3b3b36" filter="url(#pdb3)"/>
<path d="M184 58C185.2 53.2 191.2 52.8 192 62C192.8 71.2 192.8 140.2 192 150C191.2 159.8 185.2 164 184 160C182.8 156 180 120.2 180 110C180 99.8 182.8 62.8 184 58Z" fill="#272722" filter="url(#pdb3)"/>
<path d="M186 58C188.8 59 214.8 77.4 218 82C221.2 86.6 220.8 105 218 104C215.2 103 193.2 76.6 190 72C186.8 67.4 183.2 57 186 58Z" fill="#20201b" filter="url(#pdb1)"/>
<path d="M0 20C6.7 20.3 23.3 22.3 40 22C56.7 21.7 83.3 19.7 100 18C116.7 16.3 133.3 13 140 12" stroke="#4e4e49" stroke-width="1.2" fill="none" filter="url(#pdb1)"/>
<path d="M0 60C5 60.7 20 62.3 30 64C40 65.7 55 69 60 70" stroke="#4a4a45" stroke-width="1.0" fill="none" filter="url(#pdb1)"/>
<path d="M147 0C146.5 3.3 143.5 13 144 20C144.5 27 146.5 37.3 150 42C153.5 46.7 162.5 47 165 48" stroke="#4e4e49" stroke-width="1.3" fill="none" filter="url(#pdb1)"/>
<path d="M186 0C185.7 5 184 20.3 184 30C184 39.7 183.3 52 186 58C188.7 64 197.7 64.7 200 66" stroke="#484843" stroke-width="1.2" fill="none" filter="url(#pdb1)"/>
<path d="M13 60C13.5 68.3 15.8 95 16 110C16.2 125 13.7 137.5 14 150C14.3 162.5 17.3 179.2 18 185" stroke="#4a4a45" stroke-width="1.4" fill="none" filter="url(#pdb1)"/>
<path d="M8 68C8.3 76.7 10 103 10 120C10 137 8.3 161.7 8 170" stroke="#30302b" stroke-width="1.2" fill="none" filter="url(#pdb1)"/>
<path d="M165 140C169.2 143.3 181.2 153.3 190 160C198.8 166.7 213.3 176.7 218 180" stroke="#4a4a45" stroke-width="1.3" fill="none" filter="url(#pdb1)"/>
<path d="M215 0C215.2 36 215.8 180 216 216" stroke="#23231e" stroke-width="2.0" fill="none" filter="url(#pdb1)"/>
<path d="M108 47.8C116.4 45.3 122.9 45 130.4 44.8C137.9 44.5 146.1 45.1 152.8 46.3C159.5 47.5 166.2 50 170.7 52.2C175.2 54.4 177.6 56.2 179.6 59.5C181.6 62.8 181.9 66.9 182.4 72C182.9 77.1 182.8 84.3 182.4 90C182 95.7 181.2 100.3 180 106C178.8 111.7 177.4 118.1 175.5 124C173.6 129.9 171.7 135.5 168.6 141.2C165.5 146.9 161.6 152.9 157.2 158.3C152.8 163.7 147.7 168.8 142 173.5C136.3 178.2 129.3 183.3 123 186.8C116.7 190.3 110.3 192.8 104 194.4C97.7 196 92 196.2 85 196.3C78 196.4 68.7 195.8 62 194.8C55.3 193.8 50 192.4 45 190.5C40 188.6 35.3 186.2 32 183.5C28.7 180.8 26.6 177.6 25.4 174C24.2 170.4 24.3 166.8 24.6 162C24.9 157.2 25.9 150.7 27 145C28.1 139.3 29 134.3 31 128C33 121.7 36 113.3 38.8 107C41.6 100.7 44.5 95.2 48 90C51.5 84.8 54.4 81.1 59.7 76.1C65 71.1 72 64.7 80 60C88 55.3 99.6 50.3 108 47.8Z" fill="none" stroke="#20201b" stroke-width="5" filter="url(#pdb1)"/>
<path d="M108 47.8C116.4 45.3 122.9 45 130.4 44.8C137.9 44.5 146.1 45.1 152.8 46.3C159.5 47.5 166.2 50 170.7 52.2C175.2 54.4 177.6 56.2 179.6 59.5C181.6 62.8 181.9 66.9 182.4 72C182.9 77.1 182.8 84.3 182.4 90C182 95.7 181.2 100.3 180 106C178.8 111.7 177.4 118.1 175.5 124C173.6 129.9 171.7 135.5 168.6 141.2C165.5 146.9 161.6 152.9 157.2 158.3C152.8 163.7 147.7 168.8 142 173.5C136.3 178.2 129.3 183.3 123 186.8C116.7 190.3 110.3 192.8 104 194.4C97.7 196 92 196.2 85 196.3C78 196.4 68.7 195.8 62 194.8C55.3 193.8 50 192.4 45 190.5C40 188.6 35.3 186.2 32 183.5C28.7 180.8 26.6 177.6 25.4 174C24.2 170.4 24.3 166.8 24.6 162C24.9 157.2 25.9 150.7 27 145C28.1 139.3 29 134.3 31 128C33 121.7 36 113.3 38.8 107C41.6 100.7 44.5 95.2 48 90C51.5 84.8 54.4 81.1 59.7 76.1C65 71.1 72 64.7 80 60C88 55.3 99.6 50.3 108 47.8Z" fill="url(#pdbg)"/>
<g clip-path="url(#pdbc)">
<ellipse cx="86" cy="100" rx="55" ry="26" transform="rotate(-38 86 100)" fill="#a3a3a3" opacity="0.6" filter="url(#pdb6)"/>
<path d="M108 47.8C116.4 45.3 122.9 45 130.4 44.8C137.9 44.5 146.1 45.1 152.8 46.3C159.5 47.5 166.2 50 170.7 52.2C175.2 54.4 177.6 56.2 179.6 59.5C181.6 62.8 181.9 66.9 182.4 72C182.9 77.1 182.8 84.3 182.4 90C182 95.7 181.2 100.3 180 106C178.8 111.7 177.4 118.1 175.5 124C173.6 129.9 171.7 135.5 168.6 141.2C165.5 146.9 161.6 152.9 157.2 158.3C152.8 163.7 147.7 168.8 142 173.5C136.3 178.2 129.3 183.3 123 186.8C116.7 190.3 110.3 192.8 104 194.4C97.7 196 92 196.2 85 196.3C78 196.4 68.7 195.8 62 194.8C55.3 193.8 50 192.4 45 190.5C40 188.6 35.3 186.2 32 183.5C28.7 180.8 26.6 177.6 25.4 174C24.2 170.4 24.3 166.8 24.6 162C24.9 157.2 25.9 150.7 27 145C28.1 139.3 29 134.3 31 128C33 121.7 36 113.3 38.8 107C41.6 100.7 44.5 95.2 48 90C51.5 84.8 54.4 81.1 59.7 76.1C65 71.1 72 64.7 80 60C88 55.3 99.6 50.3 108 47.8Z" fill="none" stroke="#545454" stroke-width="9" opacity="0.6" filter="url(#pdb6)"/>
<ellipse cx="182" cy="100" rx="10" ry="46" fill="#5b5b5b" opacity="0.6" filter="url(#pdb3)"/>
</g>
<path d="M46 112C47.7 110.2 51.7 105.2 56 101C60.3 96.8 66.7 90.8 72 87C77.3 83.2 82.8 80.4 88 78C93.2 75.6 97.4 74.3 103 72.4C108.6 70.5 115.4 68.7 121.6 66.6C127.8 64.5 133.6 61.4 140 60C146.4 58.6 154 57.7 160 58C166 58.3 173.3 61.3 176 62" stroke="#5c5c57" stroke-width="1.1" fill="none" opacity="0.75"/>
<path d="M52 136C53.7 135.7 57.7 135.5 62 134C66.3 132.5 72.6 129.7 77.8 127C83 124.3 87.8 121.2 93 118C98.2 114.8 103.6 111.3 108.9 108.1C114.2 104.9 119.5 101.9 125 99C130.5 96.1 136.5 94 142 90.8C147.5 87.6 153.7 82.8 158 80C162.3 77.2 166.3 75 168 74" stroke="#5c5c57" stroke-width="1.1" fill="none" opacity="0.75"/>
<text x="0" y="0" transform="translate(80 160) rotate(-36)" font-family="Liberation Serif, serif" font-weight="bold" font-size="18" fill="#8e8e89" stroke="#3d3d38" stroke-width="0.9" opacity="0.16" letter-spacing="0.5">SPALDING</text>
<text x="0" y="0" transform="translate(100 184) rotate(-36)" font-family="Liberation Sans, sans-serif" font-size="5" fill="#42423d" opacity="0.12">OFFICIAL FOOTBALL J5V</text>
<circle cx="123.3" cy="147" r="2.6" fill="#20201b" filter="url(#pdb1)"/>
<path d="M66.8 116.2L130.8 74.7" stroke="#f0f0f0" stroke-width="4.2" stroke-linecap="round" filter="url(#pdb05)"/>
<path d="M67.8 112.7L69.4 118.5M75.4 107.8L77 113.6M83 102.9L84.5 108.7M90.6 98L92.1 103.7M98.2 93L99.7 98.8M105.7 88.1L107.3 93.9M113.3 83.2L114.9 89M120.9 78.3L122.5 84.1M128.5 73.4L130 79.2" stroke="#e8e8e8" stroke-width="2.2" stroke-linecap="round" filter="url(#pdb05)"/>
</g>
<defs><filter id="pddb" x="-5%" y="-5%" width="110%" height="110%"><feGaussianBlur stdDeviation="0.45"/></filter></defs><g filter="url(#pddb)"><path d="M208.4 30.7h0M217.2 40.1h0M207.7 140.4h0M179.6 144h0M11.2 114.8h0M199.4 66.6h0M87.9 200.3h0M173.2 139.6h0M151 11.7h0M184.2 107.7h0M26.1 47h0M188.5 39.3h0M21.6 101.5h0M201.2 179.8h0M7.7 44.2h0M54.5 50.1h0M14.6 143.6h0M193.5 139.4h0M9.7 105.1h0M214.4 182.5h0M116.5 30.6h0M188 176.3h0M194.3 119.1h0M177.9 209.9h0M142.8 42.4h0M11.5 82.1h0M112.8 208.9h0M21.9 14.8h0M70.2 61h0M5.7 68.5h0M38.6 103h0M191 206.7h0M47.7 28.1h0M67.9 30.3h0M216.3 176.9h0M110 15.4h0M83.1 197.1h0M62.6 2.7h0M66.3 52h0M202.9 73h0M121.4 38.1h0M170.3 49h0M213 125.3h0M10.5 130.6h0M57.1 2.4h0M110.8 35h0M11.5 27h0M179.8 116.8h0M88.9 9.6h0M16.5 133.6h0M36.4 4.7h0M48.7 41.1h0M195.5 159h0M192.4 103.3h0M180.5 25.9h0M56.2 26.9h0M60.3 15.5h0M43.7 46h0M127.4 24.5h0M149.1 169.6h0M30.1 111h0M70.2 10.1h0M82.4 22.9h0M181.5 21.6h0M85.2 53.8h0M184.8 185.6h0M212.9 58.6h0M165.5 160.5h0M217.3 168.4h0M94 19.7h0M19.4 76.5h0M163.5 156h0M8.3 147.6h0M11.5 39.5h0M10.8 19.6h0M62.2 40.1h0M77.4 49.1h0M50.8 20.3h0M211.5 154.3h0M7.2 132.3h0M197.3 164.4h0M189.1 181.6h0M216.6 57.1h0M26 135.6h0M183.4 161h0M210.6 15h0M198.1 169.4h0M163.5 176.1h0M196.7 11.5h0M10.6 167.5h0M71 52.8h0M11.7 34.3h0M185.8 67.5h0M48.2 83.1h0M30.4 41.3h0M169 173.8h0M98 207h0M157 34.5h0M32.6 123.6h0M180.9 155.3h0M2.5 114.9h0M213.3 107.8h0M203.6 25.1h0M200.8 6.6h0M172.5 199.8h0M154.1 17.5h0M18.7 139.1h0M51.5 78.4h0M146.2 37.2h0M61.4 63.3h0M193.9 214.1h0M34.8 95.2h0M29.5 27.4h0M202 100h0M83.3 57.8h0M42.7 92.8h0M192.6 127.6h0M31.2 115.8h0M38.7 12.2h0M23.3 141.7h0M181.9 120.4h0M202 147.8h0M4.1 73.4h0M84.5 211.9h0M206.3 57.4h0M82 9h0M42.5 62.3h0M174.2 181.1h0M3 123h0M16.7 15.6h0M191.3 114.9h0M143.8 199.3h0M168.8 143.9h0M195.1 88.3h0M18.3 152.1h0M94.5 205.1h0M35.7 37.9h0M120.3 205.8h0M187 117.3h0M184.4 77.3h0M42.3 10.1h0M19 69.2h0M122.7 6h0M146.8 18.8h0M200.7 16.1h0M212.7 25.5h0M188.6 4.4h0M58.1 214.8h0M207.4 190.3h0M195 192.3h0M32.9 32.3h0M178.5 161.3h0M35.2 106.1h0M102.1 44.4h0M50.2 207.3h0M72.6 211.4h0M11.2 14.4h0M31.3 96.5h0M52.2 33.4h0M148.1 14h0M60.6 211.9h0M13.9 95h0M111.7 26.1h0M206.6 8.2h0M23.8 7.6h0M41.2 196.2h0M184 55.8h0M139.5 178.1h0M61.4 29.7h0M168.1 193.4h0M85.7 44.9h0M17.8 84.3h0M76.1 53.4h0M211.8 47.2h0M23.7 41.3h0M174.1 48.1h0M148.2 174.2h0M171.7 146.5h0M102.2 12.9h0M38.3 46.1h0M28.6 66.9h0M85.5 11.9h0M211.9 168.2h0M208.3 78.3h0M192.5 169.3h0M28.1 18.1h0M30.1 50.6h0M179.8 57h0M187.6 61.6h0M14.3 116.9h0M23.6 0.9h0M54.3 9h0M164 184.6h0M73 37.3h0M119.8 42h0M100.9 8.7h0M63.2 20.2h0M147.6 184h0M164.1 21h0M185.2 111.8h0M217.2 11.2h0M197.2 150.8h0M187.2 145.4h0M159 208.2h0M191.3 79.1h0M61 45.5h0M40.5 38.1h0M206.1 39.3h0M212.9 65.8h0M107.4 19.3h0M203.5 141.5h0M144.7 178.1h0M208.3 194.4h0M5.8 117.6h0M9.6 121.2h0M27.4 73.3h0M14.5 130.6h0M92.2 40.6h0M209.5 88.2h0M189.5 92.7h0M76.9 198.1h0M217.3 64h0M203.3 48h0M69.1 17.4h0M3.9 17.2h0M61.3 74.7h0M116 12.2h0M183.6 149.9h0M188.5 23.6h0M24.7 79.4h0M33.9 57.2h0M165.1 11.9h0M123.3 192.8h0M204.3 64.3h0M129 188h0M216.4 186.6h0M59.4 36h0M131.5 195.6h0M145.2 30h0M205.7 164.7h0M205.5 208.8h0M1.9 52.6h0M1.5 131.7h0M41.4 88.2h0M74 202h0M136.6 185.1h0M110.2 198.1h0M184.8 127.6h0M159.8 168.4h0M215.3 71.9h0M11.9 158.1h0M103.6 196.7h0M190.1 164.8h0M36.9 52.7h0M65.7 196.3h0M123.6 199.7h0M202.6 107.4h0M77.7 57.1h0M205.8 114h0M54.2 70.6h0M35.9 20.3h0M88.6 38.3h0M43.7 82.7h0M8.6 163.7h0M186.7 26.9h0M144.3 11.4h0M64.5 66h0M145.4 5.6h0M213.6 100.6h0M162.5 48.1h0M197.9 70.8h0M159.2 173h0M61 50.2h0M18.4 104.5h0M114.2 4.7h0M25.6 33h0M62 69.7h0M197.5 203.5h0M160.8 14.4h0M184 139.1h0M105.9 7.6h0M184.4 170.8h0M172.3 26.7h0M197.1 176.9h0M79.1 35h0M24.9 148.1h0M159.9 178.4h0M193.7 209.3h0M117.8 199.3h0M70.4 199.5h0M17.8 23.2h0M128.3 203.6h0M210.8 35.4h0M201.1 175.7h0M45.6 72.6h0M4 36.7h0M145.8 207.9h0M214.9 111.7h0M132.1 201h0M58.9 53.3h0M181.1 205.5h0M26.3 130.9h0M19.3 52.5h0M1.2 84.6h0M178.5 47.8h0M74.9 24.5h0M34.9 71.4h0M179.2 18.5h0M100.1 202.5h0M41.3 215h0M211.5 113.5h0M198.8 187.6h0M185.5 50.8h0M206.3 145.1h0M52.8 45.5h0M74.3 7.5h0M176.6 39.5h0M148.8 27.1h0M43 96.5h0M210.2 61.5h0M54.8 18.8h0M18.8 110.7h0M172.6 134.1h0M88.5 33.4h0M172.8 14.8h0M51.8 194.2h0M173.1 153.8h0M164.6 37.7h0M207.5 157.1h0M8.3 23.9h0M24.1 94.7h0M52.7 2h0M208.9 213.2h0M68.1 24.6h0M45.6 201.1h0M199 126.2h0M58.7 11.7h0M61.5 198.4h0M192.4 122.7h0M62.2 203.7h0M176.3 55.7h0M205.8 181.5h0M214.4 135.6h0M21.6 157h0M88.5 4h0M46.7 50.4h0M194.4 134.9h0M131.6 183.6h0M182 2.3h0M71.9 22.4h0M127.9 207.5h0M136.7 5.6h0M89.2 19.3h0M194.1 49.7h0M172.7 44h0M194.1 143.5h0M12.3 61.1h0M67.2 56.5h0M215.2 148.6h0M150.7 44.8h0M122 18.4h0M34.3 85.4h0M4.7 162.5h0M202.8 13h0M70.5 65.9h0M119.8 46.1h0M208.9 103.5h0M216.5 201.9h0M211.5 163h0M41.5 58.7h0M189.4 88.2h0M100 22.2h0M177 191.9h0M180.5 127.7h0M197.9 118.5h0M137.7 44h0M132.8 6.2h0M29.7 85.3h0M189.6 48.8h0M187.4 43.8h0M122.6 29.2h0M157.4 22.1h0M17.1 44.5h0M203.9 120h0M189.6 13.9h0M159.6 157.3h0M168 149.5h0M57.3 32.6h0M126.7 34h0M185.7 84.1h0M49.1 198.4h0M110.2 2.1h0M52.7 64.7h0M6.3 42.3h0M192 148.9h0M158.6 164.6h0M47.6 212.1h0M29.4 80.8h0M147.5 193.4h0M64.9 35.2h0M181.9 104.9h0M92 195.8h0M43.9 3.4h0M170.7 2.3h0M192.6 37.5h0M94.9 30.3h0M195.5 138.3h0M133.3 20.1h0M207.6 49.7h0M12.9 125.7h0M15.4 168.9h0M69.5 39.2h0M34.9 49.5h0M15.1 162.1h0M177.9 130.4h0M43.7 16.7h0M19.5 165.9h0M152.4 185.7h0M13.4 141.3h0M35.3 111.4h0M189.3 134h0M156.2 161h0M107.8 41.9h0M148.6 203.3h0M183.4 211.7h0M17.6 126.8h0M1.1 166.5h0M139.5 190.2h0M30.8 8.6h0M198.3 24.7h0M34.1 45.5h0M152.1 10h0M155.1 214.9h0M73.3 44.5h0M91.1 211.8h0M189 104.2h0M108.8 192.8h0M201.9 76.3h0M26.6 88.4h0M4.4 60.7h0M205.9 43.5h0M89.8 200.8h0M199.1 208.1h0M177.8 9.2h0M155.3 2.7h0M11.9 28.9h0M192.9 59.2h0M45.6 197.4h0M142.8 204.9h0M39.6 103.2h0M129.5 14.2h0M149.7 38.5h0M46.7 46.7h0M147.2 1.2h0M174 139.8h0M18.2 78.6h0M17 89.5h0M34.9 27.1h0M63.9 26.6h0M55 196.9h0M5 143.1h0M50.4 215.3h0M140.5 23h0M7 128.3h0M188 139.3h0M82.3 42h0M209 122.6h0M97 196.3h0M6.5 155.4h0M55.7 60.1h0M124.1 0.7h0M113.1 190.9h0M198.5 37.9h0M124.9 37.4h0M13.2 154.6h0M203.2 71.8h0M199.2 104.9h0M182.3 144.6h0M37 1.8h0M96.9 2.6h0M157.7 29.8h0M213.1 19.4h0M159.4 194.8h0M158 35.1h0M132.4 190h0M194.6 153.5h0M192.7 199.1h0M176.1 146h0M25.5 113.2h0M167.3 15.7h0M196.3 182.2h0M211.2 153.8h0M12.5 84.6h0M53 202.1h0M75.4 63.2h0M167.8 169.5h0M91.5 6.1h0M204.4 134.7h0M41.7 72.7h0M162.5 42.2h0M209.4 205.6h0M176 196.3h0M11.5 55.4h0M154.2 39.4h0M211.7 185.3h0M4.4 104.6h0M109.9 22.2h0M131.1 35.8h0M92.1 11.9h0M188.6 98.1h0M209.6 30.4h0M29.9 122.2h0M131.7 9.7h0M78 215.1h0M182.2 187.1h0M215.9 211.4h0M121.2 196.5h0M179.2 120.5h0M46.7 90.4h0M196.6 94.4h0M182.7 71.2h0M180.5 177.9h0M117.6 0.7h0M207 18h0M8.3 4.9h0M183.2 80.3h0M27.5 116.2h0M114.3 196.2h0M123.2 4.2h0M21 89.3h0M173.1 167.5h0M215.2 171.8h0M176.8 166.4h0M83 208.1h0M4.1 113h0M192.6 63.7h0M25.8 125.3h0M90.2 50.1h0M80.1 50.5h0M27.8 2.1h0M26 84.2h0M24.9 134.8h0M183.6 88.7h0M156.4 45.2h0M41.1 207.2h0M87.4 211.4h0M191.1 194.8h0M75 15.5h0M193.4 68.4h0M124.3 210h0M166.3 158.9h0M84.6 51.6h0M189.3 108.7h0M140.2 194.9h0M96 25.6h0M46.3 205.5h0M173.8 163.4h0M136.2 195.2h0M133.9 44.6h0M207.2 74.8h0M65 201.1h0M210.9 126.3h0M12.9 147.1h0M170.9 202.6h0M135.3 212.9h0M22.6 43.9h0M78.2 202h0M184 108.1h0M159.1 187.9h0M3.6 127h0M6.8 88.7h0M25.4 62.7h0M11.4 49.1h0M155.6 16.1h0M127.6 27.4h0M47 192.1h0M211.5 170.4h0M119.5 5.5h0M173.2 183.1h0M22.8 27.6h0M52.3 12.7h0M212.4 202.5h0M31.4 93.9h0M8 131.9h0M182.2 32.4h0M19.3 134.1h0M195 21.5h0M66.2 52.9h0M110.2 215.5h0M170.4 19.7h0M103.8 47.2h0M57 48.9h0M85.7 11.6h0M187.5 190.2h0M207.4 108.9h0M13.1 79.2h0M174 21.3h0M168.3 164.6h0M21.1 82.9h0M172.5 189.4h0M142.1 201.3h0M152.2 164.3h0M185.4 123h0M14.4 150.4h0M60.6 4.8h0M174.2 210h0M15.3 101.4h0M190.2 158h0M146.5 15.3h0M197 58.1h0M7.8 137.7h0M196.9 85.1h0M185.9 33.2h0M44.9 26.5h0M20 60.1h0M187.7 18.1h0M199 47.8h0M68.6 30.2h0M80 7.6h0M182.1 57.1h0M170.4 198.9h0M198.8 169.7h0M190.3 72.3h0M20 96.7h0M82.2 198.7h0M198.2 213.7h0M204.8 175.9h0M151.9 176.5h0M206.4 126h0M162 35.1h0M94.7 48.1h0M156.4 10.5h0M46.4 40.3h0M202.9 211.1h0M139.9 180.5h0M179.6 52.6h0M172.2 144.6h0M16.7 40.3h0M61.5 41.6h0M11.7 111.8h0M215.8 184.4h0M212.8 93.8h0M158.2 181.8h0M21.9 18h0M106.8 31h0M1.6 117.6h0M154.6 26.4h0M42.3 22h0M41.4 44.5h0M91.3 29.9h0M183.3 65.2h0M84.8 4.7h0M148.8 185h0M41.8 91.6h0M146.5 171.5h0M16.6 94h0M22.2 68.6h0M191.1 169.5h0M148.9 179.2h0M87.8 54h0M14 118.1h0M113.7 41.4h0M152 194.5h0M191.6 127.3h0M185.6 9.1h0M116 8.1h0M141 18.8h0M4 72.5h0M77.7 198.2h0M205 151.1h0M194.5 176.7h0M59.1 74.2h0M201.3 137.1h0M1.2 106.7h0M101.6 43h0M83.7 33.7h0M1.8 146.9h0M164.5 197.6h0M12.4 19.7h0M77.1 42.5h0M211.8 198.5h0M19 6.5h0M122.5 193h0M70.7 202.1h0M17.4 16.2h0M20 143.5h0M84.4 15.9h0M167.4 23.8h0M212 50.8h0M50.9 33.9h0M73.2 55.3h0M66.8 68.8h0M50 29h0M101 201.3h0M187 68.3h0M70.1 12.8h0M196 102.6h0M134.8 15.3h0M180.3 147.6h0M127 17.9h0M141.3 14h0M1.1 52.8h0M204.6 112.7h0M212.3 99.9h0M64.5 209.4h0M191.3 208.3h0M199.8 165.3h0M184.2 154.6h0M181 205.5h0M161 13.2h0M156.4 171h0M72.7 195.7h0M173.9 5h0M144.6 196.2h0M115.2 200.2h0M213.1 39.4h0M75.8 27.3h0M201.7 35.7h0M191.6 17.3h0M169.5 36.7h0M207.7 83.2h0M139.8 40.1h0M80.2 17.4h0M209.6 134.3h0M38.4 89.8h0M79.3 0.7h0M209.8 174.5h0M16.1 73.9h0M182.8 135h0M91.3 41.1h0M215.3 126.8h0M150.3 17.9h0M184.6 99.5h0M60.7 204.6h0M40.6 7.6h0M13.7 122h0M211.9 190h0M196.7 66.1h0M1 30.1h0M168 46.5h0M44.5 79.9h0M111.2 14.2h0M14.4 174.5h0M106.9 205.5h0M19.6 120.8h0M217.5 207.5h0M38.6 15.9h0M133.9 31h0M25.6 153h0M1.5 86.3h0M29.7 111.3h0M170.4 178.3h0M129.7 39.2h0M48.1 9.4h0M146.5 175.2h0M106.8 19.2h0M192.7 105.8h0M179.7 24.1h0M174.5 17h0M7.1 120h0M179.7 191.5h0M205.2 160h0M1 80.7h0M30.3 68.9h0M216.5 100.5h0M214 175.6h0M41.2 195.9h0M168.1 41.5h0M21 10.5h0M175.3 171h0M195.6 163.8h0M60.8 68.4h0M211.4 3.1h0M31.5 3.8h0M39.5 82.1h0M26.1 147.5h0M161.2 2.4h0M41.9 40.5h0M81.9 54.4h0M105.5 208.9h0M130.7 186.4h0M200.7 42.9h0M3.6 171.5h0M122 214.5h0M105 11.7h0M1.4 4.8h0M149.2 43.9h0M27.5 93.7h0M48 3.4h0M135.7 41.4h0M189.2 116.6h0M204.7 191.9h0M162.6 154.4h0M11.9 67.6h0M56.9 69.7h0M81.1 212.9h0M55.7 23.4h0M195.5 89.4h0M137.3 185.9h0M12.3 40.2h0M204.5 81.2h0M187 49.9h0M25.6 14.1h0M173.7 47.9h0M203.8 47h0M216.3 79.8h0" stroke="#5766cf" stroke-width="2.7" stroke-linecap="round" fill="none" opacity="0.85"/>
<path d="M36.3 148.8h0M111.7 109.1h0M34.1 176.3h0M120.3 74.2h0M126.5 157.4h0M103.9 178.3h0M107.2 118.8h0M48.7 131.4h0M130.1 66.4h0M169.1 81.1h0M107 81.2h0M168.4 104.4h0M63.4 90.7h0M162.3 103.5h0M46.5 180.7h0M93 125.4h0M60.4 165.7h0M127.3 55.8h0M70.9 106.7h0M82.5 153.1h0M154.9 54.9h0M131 109.8h0M152.3 113.5h0M165.4 96.8h0M96.6 111.7h0M54.1 151.9h0M157.6 98.5h0M169.7 135.3h0M152.2 147.3h0M133.9 177.8h0M139.7 147.1h0M55.7 182.3h0M130.3 60.1h0M95.3 133.2h0M132.4 151.1h0M99 192.8h0M29.8 170.7h0M120.3 48.9h0M132.1 133.9h0M174.1 73.2h0M77.1 64.6h0M148.2 140.9h0M89.1 149h0M116.1 135.6h0M154.5 106.7h0M76.9 132.4h0M164.5 139.6h0M39.2 116.6h0M144.9 45.8h0M92.6 138.3h0M58.1 116.1h0M82.3 85.1h0M144.7 125.5h0M49.8 158.3h0M80.9 178.2h0M163.5 81.1h0M148.6 64.1h0M47.8 148.1h0M141.4 79.7h0M151.6 89.4h0M129.5 95.9h0M138.6 137.2h0M75.7 162.8h0M140.1 98.3h0M127.8 125.9h0M88.4 164.1h0M53.1 129.4h0M44.7 124.5h0M113.4 143.2h0M108.7 192.2h0M156.7 114.6h0M74.5 143.2h0M85 172.8h0M71 171h0M81.7 186.5h0M150.4 135.5h0M43.5 106.8h0M47 187.2h0M145.3 50.1h0M98.2 158.8h0M82 60.7h0M147.9 166.5h0M136.3 59.2h0M108.9 151.3h0M93.9 143.3h0M111.2 64.1h0M76.2 151.4h0M136.2 67.7h0M38.1 123.7h0M100.5 149.5h0M31.2 137.1h0M132 86.2h0M65.2 164.7h0M15.4 196.5h0M89.7 67.9h0M77 116h0M63.7 180.4h0M103.2 166.3h0M68.9 132.9h0M116.4 162.3h0M58.1 161.8h0M116.6 53.9h0M147 56.6h0M63.8 81.5h0M81.7 73.8h0M104.9 185.3h0M178.6 100.2h0M127.7 138.9h0M142.2 118.6h0M158.3 86.9h0M108.7 69.1h0M87 141.6h0M174.4 88.9h0M59.5 171.4h0M44.1 135.7h0M37 157.5h0M130.4 129h0M67 155.2h0M170.6 54.4h0M53.4 143.5h0M68.6 186.5h0M125.9 88.1h0M125.1 172.4h0M146.5 98h0M93 57.6h0M158.4 74.5h0M154.8 94.4h0M124.4 176.5h0M25.4 164.6h0M86.7 134.2h0M43.4 168.3h0M140.5 74.6h0M56.9 120.7h0M66.7 138.6h0M140.9 173.2h0M157.2 142.2h0M75.9 96h0M97.4 121.7h0M94.8 61.8h0M60.5 184.1h0M79.6 129h0M134.4 116.4h0M44.7 145h0M171.2 131.1h0M6.6 178.8h0M121.5 183.5h0M128.7 165.6h0M2.4 187.1h0M60.6 143.9h0M151.2 100.9h0M112.3 101h0M123.5 115.1h0M91.9 159.8h0M119 98h0M61.7 193.8h0M145.1 73.3h0M75 175.4h0M65.6 171.2h0M180.1 74.4h0M23.1 179.5h0M58.7 151.3h0M140.6 164.2h0M12.8 202h0M92.8 165.1h0M40.7 185.2h0M112.2 183.7h0M156.3 154.8h0M171.5 96h0M97.6 82.6h0M88.6 181.1h0M117.3 176.6h0M124.4 135h0M138.9 91.1h0M57.8 127.4h0M159.4 148.4h0M173.2 124.4h0M113.2 70.2h0M122.3 150.7h0M99.7 180.5h0M173.2 108.1h0M73.6 129.3h0M104.4 152.5h0M48.2 164.9h0M160.8 136.6h0M85.7 69.6h0M130.1 49h0M24.7 212.5h0M127.2 113.4h0M155.3 127.8h0M46.3 117.3h0M117.7 139.5h0M162.9 61.8h0M41.7 103.2h0M144.5 59.8h0M61.7 148.3h0M145.7 93.8h0M84.5 121.6h0M81.7 168h0M145.1 134.7h0M149.8 69.1h0M151.1 49.3h0M118.3 119.7h0M143.2 86.4h0M63.4 98.5h0M96.4 172.1h0M29.4 155.4h0M70 73h0M167.1 109h0M175.1 60.9h0M152.5 80.4h0M66 123.1h0M136.5 126.1h0M123.9 109.6h0M139.2 86.3h0M118 110.6h0M90.7 188h0M89.2 78.2h0M128.8 178.8h0M132 120.2h0M114.6 129.8h0M124.5 72h0M29.3 145.1h0M56.2 135.7h0M108.1 128.9h0M162.1 53.7h0M120.3 131.7h0M79.5 192.6h0M79.5 124.8h0M128.2 161.1h0M140.9 109.9h0M170.3 68.3h0M169.7 100h0M101.5 55.2h0M101.9 120.9h0M86.9 93.6h0M138.6 48.6h0M28.5 201.6h0M90.9 110.3h0M23.1 200.4h0M135.5 55h0M154.9 71.6h0M105 72.5h0M120.8 156.8h0M47.6 174.5h0M64.7 128.8h0M179.9 68.4h0M181.7 79.1h0M176.1 95.6h0M106.1 143.3h0M67.7 145.1h0M93.7 90.5h0M140.8 69.7h0M65.4 175.4h0M134.4 161.3h0M116.4 188.4h0M79.8 171.8h0M118.5 58.9h0M105.4 125h0M115.8 149.5h0M63.5 85.6h0M55.9 107.2h0M103.6 157.5h0M137.7 176.2h0M89.4 122.9h0M139.4 105.4h0M5.4 195.3h0M42.2 161.4h0M147 112.9h0M59 93.7h0M37.4 112.5h0M3.4 204.5h0M113 114.5h0M66 150h0M8.3 198.7h0M98.5 143.6h0M149.1 108.1h0M52.6 120.2h0M42.3 151.1h0M154.6 65.3h0M87.7 86.9h0M108.9 138.8h0M39.8 202.2h0M139.6 160.1h0M115.5 92.9h0M179 88.4h0M50.3 92.7h0M175.9 77.4h0M129.8 104.6h0M145.7 154.8h0M114.9 60.8h0M107.8 164.4h0M165.7 101h0M92.7 169.7h0M111.7 158.1h0M100 174.4h0M120.5 171.1h0M128.5 70.1h0M64.9 105.2h0M39 176.6h0M106.4 102h0M118.3 69.2h0M86.2 191.6h0M138.7 151.5h0M27.7 183.3h0M97.3 102.3h0M111.1 57.4h0M28.3 174.5h0M76.4 72.2h0M142.1 53h0M32.1 125h0M98.9 86.6h0M174 100.6h0M66.6 110.6h0M14.5 207.8h0M154.3 132.1h0M164.3 91.5h0M71.7 94.9h0M71.2 167h0M87.1 185.2h0M132.9 147h0M45.6 155.7h0M40.1 142.1h0M111.9 48.6h0M84.9 130.4h0M56.9 178.3h0M172.7 114.7h0M116.7 182.5h0M134.1 95.1h0M144.5 130.3h0M111.6 126.6h0M170.1 121.8h0M94 176.5h0M49.4 135.7h0M83 139h0M127.2 143.3h0M108.3 134.4h0M13.7 192.7h0M112 174.7h0M32.1 152.4h0M29.4 178.5h0M170 61.2h0M103.1 138.3h0M177.6 104.3h0M56.8 82.2h0M109 168.2h0M24.3 185.8h0M64.6 75h0M37.1 130.3h0M103.3 105.7h0M18.7 191.7h0M105.3 111.7h0M131.9 91.4h0M32.4 183.6h0M152.4 59.6h0M102.4 80.3h0M88.5 58.3h0M38 136.9h0M159.3 131.7h0M166.9 55.9h0M165.9 73.8h0M70.6 190.6h0M115 76.9h0M105.4 147.4h0M77.1 183.5h0M124.5 47.7h0M178.5 108.6h0M104.9 53h0M56.5 155.7h0M69.9 159.2h0M90.5 192.1h0M113 138.5h0M27.1 190.8h0M71.6 69.1h0M101 133h0M81 115.4h0M11.2 188.4h0M102.9 98.2h0M156.9 58.9h0M121 55.2h0M82.6 81.1h0M93.6 106.3h0M61.5 137.4h0M125.2 121.8h0M79.9 145.4h0M142.3 141.7h0M49.1 105.3h0M54.3 187.7h0M52.7 191.7h0M23.2 208.5h0M51.8 108.7h0M8.3 185.4h0M108.2 180.6h0M143.7 161.5h0M50.2 178.3h0M60.5 76.5h0M32.3 160.8h0M34.6 212h0M124 67.6h0M36.1 199h0M176.3 82.2h0M76.1 168.9h0M123.4 93.8h0M69.9 152.1h0M136.2 167.2h0M56.4 174.3h0M92.4 152.1h0M41.6 120.3h0M115.3 106.1h0M62.5 118.1h0M123.3 125.3h0M165.5 68.1h0M74.2 123.9h0M99.8 154.1h0M60.4 189.7h0M85 114.4h0M152.5 85h0M157.3 124.2h0M98 188.8h0M125.4 54.8h0M125 101.2h0M146.8 147.2h0M162.9 113.2h0M38.3 195.4h0M142.1 64h0M155.1 159.3h0M107.5 119.3h0M157 78.5h0M71.1 147.4h0M127.4 154.8h0M59.2 132h0M133.1 100h0M34.3 120.4h0M95.7 148h0M179.9 63.4h0M80.1 119.7h0M168.3 113.9h0M162 108.9h0M72.2 179.8h0M114.9 167.4h0M105.2 174.4h0M96.4 113.8h0M53.6 167.8h0M96.1 54.2h0M85.9 149.8h0M75.1 138.2h0M69.7 77.1h0M121.2 163.2h0M25.3 169.4h0M89.8 72.4h0M155.3 146.4h0M149.5 125.4h0M145.2 106.2h0M157.3 104.7h0M99.9 127.6h0M51.9 156.8h0M142.2 113.8h0M160.9 118.8h0M89.3 127.2h0M98.8 138.5h0M135.8 110.7h0M115.4 171.9h0M60.8 123h0M94.2 128.1h0M73.7 101.8h0M81.2 134.3h0M151.4 75.1h0M60.3 166.1h0M19.1 202.1h0M130.5 157.7h0M31.2 132.8h0" stroke="#86d43c" stroke-width="2.7" stroke-linecap="round" fill="none" opacity="0.9"/></g>
</svg>
<svg x="382.6" y="304.5" width="217.6" height="216" viewBox="0 0 218 216" preserveAspectRatio="none">
<defs><filter id="peb" x="-5%" y="-5%" width="110%" height="110%"><feGaussianBlur stdDeviation="0.5"/></filter></defs>
<rect width="218" height="216" fill="#000"/>
<path d="M29.8 180.3h1.5M6.7 196.5h1M5.3 195.3h0.6M8.3 191.8h1.7M11.4 183.4h1.4M36.5 215h0.6M13.3 178.9h1M53.5 200.8h1.1M5.5 182.7h1.5M39.3 187.2h1.4M41.7 186.6h1.7M52.8 196.1h1.8M38.5 205.8h0.7M61.5 206.1h1.4M64 199h1.4M42 209.3h1.9M43.6 201.9h0.6M64.5 201.2h2M35.5 202.1h0.5M42.5 181.1h0.7M5.4 206.3h0.7M22.8 190.4h1.8M7.4 192.9h1.3M81.3 208.4h1.8M25.6 191.4h1M81.3 214.2h0.7M16.2 183.7h0.9M44.6 198.7h0.9M0.4 191.6h1.1M52.1 214h1.5M47.4 199.9h1.5M5 211.8h1.7M80.5 207.5h1.1M36.7 178.3h1.5M5.7 176.8h0.8M14.9 188.3h0.6M0 180.4h0.7M80.4 199.8h0.7M23.2 188.6h1M11.3 209.7h2M42.9 194.3h0.6M9.4 188.4h0.9M2.1 213.9h1.3M13.5 196.8h0.5M48.6 215.1h1.8M33.7 181h1.7M49 206.7h1M20.5 208.1h2M78.4 207.9h1.7M47.6 188.9h0.5M2.6 185.7h0.9M63.7 214.2h1.2M86.2 215.5h1.9M33.5 183.3h0.8M18.1 182.6h1.4M82.8 209.3h1.2M60.1 207.6h0.6M60.8 212.2h1.7M69 194.1h0.8M73.7 214.8h1.1M36.9 213.8h1.6M15.6 179.3h0.7M83.2 207.9h0.7M76 215.2h1.5M32.2 197h0.7M1.3 214.8h1.5M48.4 213.2h1.2M80.2 208.7h0.8M23.2 186.3h0.9M54 184.9h1.1M12.1 212.2h1M42.2 198.5h1.9M38.7 212.5h1.3M48.9 196h0.5M40.5 181.7h0.5M43.6 204.5h1.3M30 195.8h1.3M51.5 184.4h0.9M71 195.3h1.3M69.9 212.3h1.2M56.4 195.2h1.3M63.7 193h1.3M44 213.5h1.5M80.6 213.6h0.9M51.5 213.6h1.8M12.6 179.1h1.2M6.7 184.1h0.6M61.6 206.9h1.8M14.2 204.1h1.5M13.2 211.1h2M20.2 214h1.1M44.8 215.6h1.7M14.9 192.1h1.3M31.2 182.2h1M51 192.5h0.5M30.5 200.2h1.3M5.9 215.4h1.7M24.4 175.7h1.7M24.9 179.4h1.1M83.9 208.4h0.9M13.7 212.6h1.4M5.3 202.9h1.1M6.7 213.4h1.5M31.2 197.2h1.9M24.6 179.4h1.3M21.9 178.6h0.7M4.6 182.5h1M28.1 205.9h0.9M46 181.5h1M1.7 184.5h0.5M67.4 197.1h0.8M43.7 213.3h0.7M45.5 209.1h1.1M46.6 202.9h2M31.5 209h1.6M58.5 191h1M5 179.5h0.6M15 177.5h1.8M80.1 202.2h0.9M22.3 186.3h1.2M14.5 192.7h0.9M88.5 214.9h1.3M22.5 214.6h1M35.1 193.9h1.3M18.5 195.2h0.5M24.3 177.8h1.1M3.8 174.9h1M21.4 198.6h1.3M69 201.6h1.6M30 215.4h0.7M66.6 201h0.6M76.8 211.5h1.4M67.5 208.1h0.7M48.2 195.2h1.8M74 208.7h1.4M82.1 202.7h1.5M21.2 175.3h0.7M33.2 178.4h1.8M51.4 200.4h1.4M62.6 194.6h0.5M73.4 205.4h1.3M49.2 201.7h0.6" stroke="#4a4a4a" stroke-width="1.2" opacity="0.9"/>
<path d="M67.5 187h1.7M48.6 192.8h2M67.6 195.7h2.7M53.3 189.7h3.2M68.7 191.4h3.1M41.1 185.8h2.1M67.7 187.7h2.9M38.5 184.7h2.2M64.9 192.3h3.2M49.6 190.2h2.7M56.7 185.4h3.7M46 195.7h3.8M38.7 189.5h3.5M76.7 189.4h2.2" stroke="#9a9a9a" stroke-width="1.3" opacity="0.8"/>
<path d="M117.8 45.6C124.8 44.3 135.3 44 141.5 44.7C147.7 45.5 155.2 49.1 159.3 50.6C163.4 52.1 166.7 53.8 169 55C171.3 56.2 173.9 57 174.5 58.4C175.1 59.8 173.5 61.5 173.2 64C172.9 66.5 172.7 71.1 172.4 75C172.1 78.9 171.5 84.1 171.1 90C170.7 95.9 170.3 108.3 169.6 114.3C168.9 120.3 167.8 125.6 166.5 130C165.2 134.4 163.3 139.2 161 143.5C158.7 147.8 154.8 153.8 151 158.5C147.2 163.2 140.6 170.5 135.6 174.7C130.6 178.9 123.6 183.4 117.8 186.5C112 189.6 101.5 193 97.1 195.4C92.7 197.8 91.8 203.5 88.3 202.8C84.8 202.1 77.9 193.6 73.5 190.9C69.1 188.2 64 187 58.7 185C53.4 183 43.1 179.8 38 177.6C32.9 175.4 26.4 174.2 24.6 170.2C22.8 166.2 25 156.6 26 151C27 145.4 29.6 138.6 31.5 133C33.4 127.5 36.2 119.2 38.5 114C40.8 108.8 44.3 102.3 47 98C49.7 93.7 53.3 89.2 56.5 85.5C59.7 81.8 64.9 76.5 68.5 73C72.1 69.5 76.5 65.4 80.5 62.5C84.5 59.6 89.4 56 95 53.5C100.6 51 110.8 46.9 117.8 45.6Z" fill="#fff" filter="url(#peb)"/>
<path d="M167.9 65.3h0.8M25.3 164.9h0.8M40.3 178.4h0.8M171.4 85.9h0.8M60.9 85.6h0.8M110.4 186.8h0.8M170.2 64.3h0.8M29.8 158.2h0.8M83.7 193.2h0.8M170.8 84h0.8M30.9 170h0.8" stroke="#999" stroke-width="1.3" stroke-linecap="round" opacity="0.6"/>
</svg>
<path d="M152.2 625.5V943.3M209.5 625.5V943.3M266.8 625.5V943.3M324.1 625.5V943.3M381.4 625.5V943.3M438.6 625.5V943.3M495.9 625.5V943.3M553.2 625.5V943.3M610.5 625.5V943.3M94.9 903.6H667.8M94.9 863.8H667.8M94.9 824.1H667.8M94.9 784.4H667.8M94.9 744.7H667.8M94.9 704.9H667.8M94.9 665.2H667.8" stroke="#e0e0e0" stroke-width="0.8" stroke-dasharray="1 2.5" fill="none"/>
<path d="M94.9 943.3v-5.5M94.9 625.5v5.5M152.2 943.3v-5.5M152.2 625.5v5.5M209.5 943.3v-5.5M209.5 625.5v5.5M266.8 943.3v-5.5M266.8 625.5v5.5M324.1 943.3v-5.5M324.1 625.5v5.5M381.4 943.3v-5.5M381.4 625.5v5.5M438.6 943.3v-5.5M438.6 625.5v5.5M495.9 943.3v-5.5M495.9 625.5v5.5M553.2 943.3v-5.5M553.2 625.5v5.5M610.5 943.3v-5.5M610.5 625.5v5.5M667.8 943.3v-5.5M667.8 625.5v5.5M94.9 943.3h5.5M667.8 943.3h-5.5M94.9 903.6h5.5M667.8 903.6h-5.5M94.9 863.8h5.5M667.8 863.8h-5.5M94.9 824.1h5.5M667.8 824.1h-5.5M94.9 784.4h5.5M667.8 784.4h-5.5M94.9 744.7h5.5M667.8 744.7h-5.5M94.9 704.9h5.5M667.8 704.9h-5.5M94.9 665.2h5.5M667.8 665.2h-5.5M94.9 625.5h5.5M667.8 625.5h-5.5" stroke="#7b7b7b" stroke-width="1" fill="none"/>
<rect x="94.9" y="625.5" width="572.9" height="317.8" fill="none" stroke="#7b7b7b" stroke-width="1"/>
<polyline points="94.9,867 100.6,863.1 106.4,859.1 112.1,882.5 117.8,862.3 123.5,757.4 129.3,741.5 135,741.9 140.7,739.9 146.5,740.7 152.2,735.5 157.9,738.7 163.6,737.9 169.4,741.5 175.1,736.7 180.8,729.6 186.6,733.9 192.3,737.1 198,728 203.8,728 209.5,728 215.2,726.8 220.9,725.6 226.7,724 232.4,722.8 238.1,717.7 243.9,703.4 249.6,705.7 255.3,704.6 261,705 266.8,705.3 272.5,708.5 278.2,709.3 284,706.5 289.7,704.2 295.4,703.8 301.1,699.8 306.9,710.9 312.6,706.5 318.3,703.4 324.1,704.2 329.8,699.8 335.5,697.4 341.2,693.4 347,684.3 352.7,690.6 358.4,693.4 364.2,694.2 369.9,691.4 375.6,691.4 381.4,691.8 387.1,693 392.8,691.4 398.5,687.5 404.3,683.9 410,687.5 415.7,685.9 421.5,684.3 427.2,684.3 432.9,685.1 438.6,682.7 444.4,681.1 450.1,676 455.8,672 461.6,672.8 467.3,669.2 473,666.8 478.7,658.5 484.5,645.8 490.2,641 495.9,640.6 501.7,640.6 507.4,639.8 513.1,645.8 518.8,647.7 524.6,647.3 530.3,646.2 536,646.2 541.8,643.8 547.5,643.8 553.2,643.8 558.9,642.6 564.7,644.2 570.4,643.8 576.1,641 581.9,639 587.6,639 593.3,638.6 599.1,638.6 604.8,638.6 610.5,637.4 616.2,637.8 622,639.8 627.7,637.4 633.4,636.6 639.2,636.2 644.9,636.2 650.6,636.6 656.3,637 662.1,637.8 667.8,639.8" fill="none" stroke="#2c4aa2" stroke-width="2.2" stroke-linejoin="round"/>
<polyline points="94.9,899.6 100.6,894.8 106.4,889.7 112.1,837.6 117.8,824.1 123.5,758.6 129.3,750.2 135,749.4 140.7,749 146.5,749.8 152.2,744.7 157.9,745.9 163.6,744.7 169.4,746.7 175.1,743.9 180.8,736.7 186.6,740.7 192.3,743.1 198,735.5 203.8,737.1 209.5,736.7 215.2,734.3 220.9,732.8 226.7,731.2 232.4,731.2 238.1,725.6 243.9,714.5 249.6,714.5 255.3,715.3 261,712.9 266.8,713.7 272.5,712.9 278.2,714.1 284,714.9 289.7,712.5 295.4,712.5 301.1,709.7 306.9,717.7 312.6,713.3 318.3,710.9 324.1,711.7 329.8,709.3 335.5,705.7 341.2,703.4 347,696.2 352.7,700.2 358.4,699.4 364.2,699.8 369.9,700.2 375.6,699.4 381.4,701 387.1,699.4 392.8,698.6 398.5,695 404.3,690.6 410,693.8 415.7,691.8 421.5,691.8 427.2,692.2 432.9,691.8 438.6,690.6 444.4,688.7 450.1,684.7 455.8,682.7 461.6,683.1 467.3,680.3 473,677.9 478.7,673.6 484.5,665.6 490.2,660.1 495.9,658.9 501.7,658.1 507.4,658.5 513.1,660.5 518.8,661.3 524.6,660.5 530.3,659.7 536,659.7 541.8,658.5 547.5,659.7 553.2,659.7 558.9,658.5 564.7,658.1 570.4,657.3 576.1,654.9 581.9,654.1 587.6,653.3 593.3,652.5 599.1,652.1 604.8,651.7 610.5,650.5 616.2,650.5 622,648.9 627.7,650.9 633.4,651.3 639.2,649.7 644.9,651.3 650.6,649.7 656.3,648.9 662.1,650.5 667.8,652.1" fill="none" stroke="#ec1c24" stroke-width="2.2" stroke-linejoin="round"/>
<polyline points="94.9,867 100.6,888.1 106.4,888.9 112.1,892.8 117.8,896.4 123.5,889.3 129.3,894.8 135,898 140.7,900.4 146.5,903.2 152.2,898.8 157.9,887.3 163.6,888.9 169.4,887.7 175.1,896.4 180.8,900.4 186.6,900 192.3,896.4 198,897.2 203.8,899.6 209.5,902.4 215.2,902.8 220.9,903.2 226.7,905.2 232.4,905.6 238.1,893.2 243.9,893.2 249.6,893.6 255.3,893.6 261,882.5 266.8,881.3 272.5,881.3 278.2,881.3 284,897.6 289.7,898.4 295.4,920.7 301.1,919.5 306.9,911.9 312.6,859.9 318.3,924.6 324.1,855.9 329.8,823.3 335.5,818.2 341.2,827.7 347,833.3 352.7,832.5 358.4,833.3 364.2,828.5 369.9,793.9 375.6,812.2 381.4,802.7 387.1,802.3 392.8,802.7 398.5,808.6 404.3,795.9 410,795.5 415.7,794.7 421.5,789.6 427.2,784.4 432.9,795.9 438.6,792.3 444.4,790.8 450.1,790.4 455.8,790.8 461.6,789.2 467.3,791.6 473,794.3 478.7,794.3 484.5,807.4 490.2,803.1 495.9,800.3 501.7,801.1 507.4,801.1 513.1,790.8 518.8,790.8 524.6,800.3 530.3,801.1 536,801.5 541.8,801.1 547.5,800.3 553.2,799.1 558.9,793.9 564.7,790.4 570.4,788.8 576.1,793.9 581.9,793.9 587.6,787.6 593.3,791.2 599.1,784.4 604.8,782.8 610.5,747.9 616.2,745.9 622,735.5 627.7,722 633.4,743.5 639.2,743.9 644.9,726.8 650.6,718.5 656.3,747.9 662.1,741.1 667.8,737.1" fill="none" stroke="#55c3d6" stroke-width="2.2" stroke-linejoin="round"/>
<polyline points="94.9,900.4 100.6,921.5 106.4,922.2 112.1,924.6 117.8,929 123.5,923 129.3,927.4 135,931.4 140.7,933.4 146.5,935.4 152.2,932.2 157.9,919.9 163.6,921.8 169.4,919.9 175.1,853.1 180.8,854.7 186.6,857.1 192.3,851.5 198,852.7 203.8,850.7 209.5,852.3 215.2,853.1 220.9,853.5 226.7,855.9 232.4,855.9 238.1,849.2 243.9,851.1 249.6,851.5 255.3,851.5 261,833.3 266.8,832.5 272.5,832.5 278.2,832.5 284,848.8 289.7,850.7 295.4,873 301.1,869.8 306.9,861.5 312.6,821.3 318.3,874.6 324.1,808.6 329.8,795.1 335.5,791.2 341.2,799.5 347,803.1 352.7,802.7 358.4,804.7 364.2,800.3 369.9,770.1 375.6,790 381.4,778.8 387.1,778.8 392.8,779.6 398.5,788.4 404.3,775.3 410,775.7 415.7,774.9 421.5,770.5 427.2,765.7 432.9,774.1 438.6,772.1 444.4,772.5 450.1,771.3 455.8,772.9 461.6,771.7 467.3,769.3 473,773.3 478.7,772.5 484.5,783.6 490.2,784 495.9,781.2 501.7,781.2 507.4,781.2 513.1,771.7 518.8,773.3 524.6,779.2 530.3,780 536,781.2 541.8,780.4 547.5,779.6 553.2,777.6 558.9,774.1 564.7,770.9 570.4,768.9 576.1,774.5 581.9,774.1 587.6,766.9 593.3,771.7 599.1,767.7 604.8,767.3 610.5,739.1 616.2,739.9 622,730 627.7,717.3 633.4,734.7 639.2,735.1 644.9,721.2 650.6,710.9 656.3,736.7 662.1,730 667.8,726.4" fill="none" stroke="#b0439e" stroke-width="2.2" stroke-linejoin="round"/>
<text transform="translate(94.9 956.9) scale(1 1.14)" text-anchor="middle" class="tk">0</text>
<text transform="translate(152.2 956.9) scale(1 1.14)" text-anchor="middle" class="tk">20</text>
<text transform="translate(209.5 956.9) scale(1 1.14)" text-anchor="middle" class="tk">40</text>
<text transform="translate(266.8 956.9) scale(1 1.14)" text-anchor="middle" class="tk">60</text>
<text transform="translate(324.1 956.9) scale(1 1.14)" text-anchor="middle" class="tk">80</text>
<text transform="translate(381.4 956.9) scale(1 1.14)" text-anchor="middle" class="tk">100</text>
<text transform="translate(438.6 956.9) scale(1 1.14)" text-anchor="middle" class="tk">120</text>
<text transform="translate(495.9 956.9) scale(1 1.14)" text-anchor="middle" class="tk">140</text>
<text transform="translate(553.2 956.9) scale(1 1.14)" text-anchor="middle" class="tk">160</text>
<text transform="translate(610.5 956.9) scale(1 1.14)" text-anchor="middle" class="tk">180</text>
<text transform="translate(667.8 956.9) scale(1 1.14)" text-anchor="middle" class="tk">200</text>
<text transform="translate(93 948.1) scale(1 1.14)" text-anchor="end" class="tk">0.1</text>
<text transform="translate(93 908.4) scale(1 1.14)" text-anchor="end" class="tk">0.2</text>
<text transform="translate(93 868.6) scale(1 1.14)" text-anchor="end" class="tk">0.3</text>
<text transform="translate(93 828.9) scale(1 1.14)" text-anchor="end" class="tk">0.4</text>
<text transform="translate(93 789.2) scale(1 1.14)" text-anchor="end" class="tk">0.5</text>
<text transform="translate(93 749.5) scale(1 1.14)" text-anchor="end" class="tk">0.6</text>
<text transform="translate(93 709.7) scale(1 1.14)" text-anchor="end" class="tk">0.7</text>
<text transform="translate(93 670) scale(1 1.14)" text-anchor="end" class="tk">0.8</text>
<text transform="translate(93 630.3) scale(1 1.14)" text-anchor="end" class="tk">0.9</text>
<text transform="translate(381.6 972.6) scale(1 1.1)" text-anchor="middle" class="al">number of selected constraints</text>
<text transform="translate(71.9 783.7) scale(1 1.14) rotate(-90)" text-anchor="middle" class="al">Rand index</text>
<rect x="373.8" y="844.6" width="330.4" height="81.2" fill="#fff" stroke="#7b7b7b" stroke-width="1"/>
<path d="M377.2 855.1H396" stroke="#2c4aa2" stroke-width="2"/>
<text transform="translate(398 861) scale(1 1.14)" class="lg">Generalized clustering with active constarints</text>
<path d="M377.2 875.1H396" stroke="#ec1c24" stroke-width="2"/>
<text transform="translate(398 881) scale(1 1.14)" class="lg">Sample−wise clustering with active constarints</text>
<path d="M377.2 895H396" stroke="#55c3d6" stroke-width="2"/>
<text transform="translate(398 900.9) scale(1 1.14)" class="lg">Generalized clustering withrandom constarints</text>
<path d="M377.2 915H396" stroke="#b0439e" stroke-width="2"/>
<text transform="translate(398 920.9) scale(1 1.14)" class="lg">Sample−wise clustering withrandom constarints</text>
</svg>
<div class="lab" style="left:91.7px;top:242.3px">(a)</div>
<div class="lab" style="left:337.9px;top:242.3px">(b)</div>
<div class="lab" style="left:584.6px;top:242.3px">(c)</div>
<div class="lab" style="left:214.6px;top:533.7px">(d)</div>
<div class="lab" style="left:461.4px;top:533.7px">(e)</div>
<div class="lab" style="left:338.1px;top:1000px">(f)</div>
</div></body></html>
